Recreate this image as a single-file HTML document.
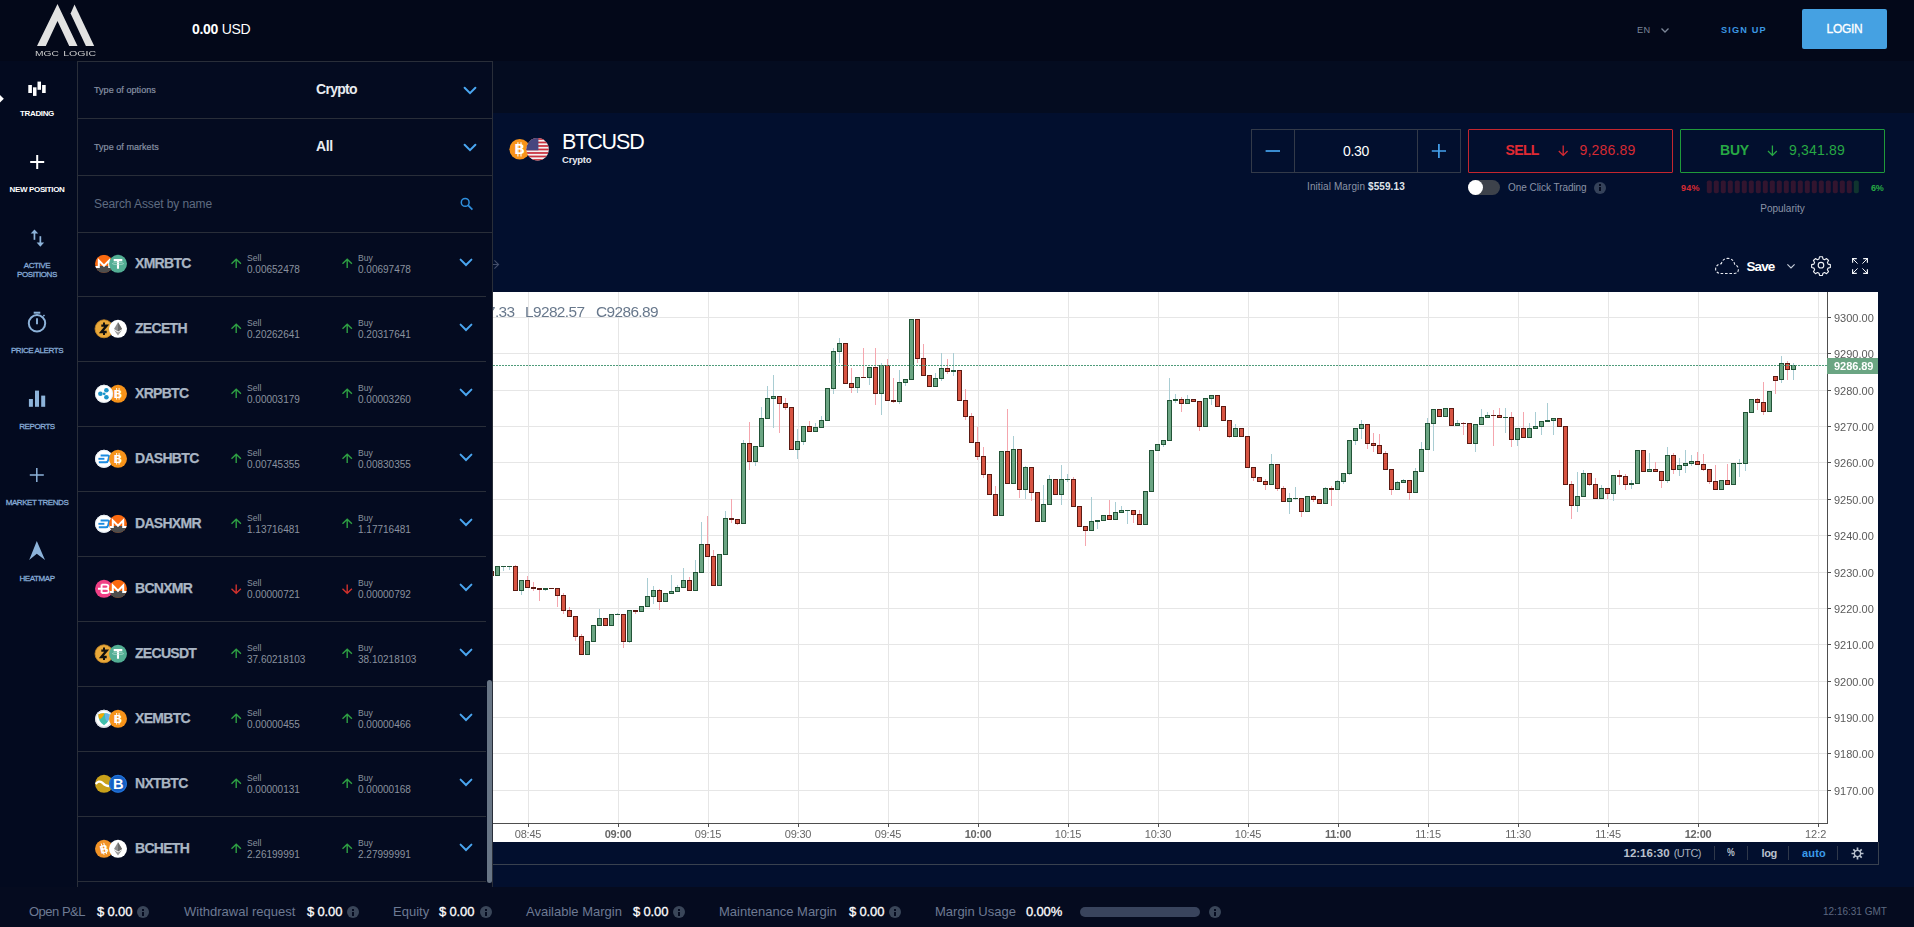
<!DOCTYPE html>
<html><head><meta charset="utf-8">
<style>
*{box-sizing:border-box;margin:0;padding:0}
html,body{width:1914px;height:927px;overflow:hidden}
body{background:#020f2e;font-family:"Liberation Sans",sans-serif;color:#fff;position:relative}
.abs{position:absolute}
.t{position:absolute;white-space:nowrap;line-height:1}
#hdr{left:0;top:0;width:1914px;height:61px;background:#030819}
#strip{left:492px;top:61px;width:1422px;height:52px;background:#040c20}
#nav{left:0;top:61px;width:77px;height:826px;background:#030a1f}
#panel{left:77px;top:61px;width:416px;height:826px;background:#040b20;border:1px solid #292e39;border-bottom:none}
#foot{left:0;top:887px;width:1914px;height:40px;background:#050b1f}
.sep{position:absolute;left:78px;height:1px;background:#292e39}
.navl{position:absolute;left:0;width:74px;text-align:center;font-size:8px;line-height:9px;color:#86aad6;letter-spacing:-0.42px;-webkit-text-stroke:0.3px #86aad6}
.nm{position:absolute;left:135px;font-size:14px;font-weight:bold;color:#a9b5c3;-webkit-text-stroke:0.25px #a9b5c3;line-height:1;letter-spacing:-0.7px;white-space:nowrap}
.sl{position:absolute;font-size:8.6px;line-height:1;color:#8a929f;white-space:nowrap}
.sv{position:absolute;font-size:10px;line-height:1;color:#8a929f;white-space:nowrap}
.ic{position:absolute;width:17px;height:17px;border-radius:50%}
.fl{position:absolute;font-size:13px;line-height:1;color:#6d7a93;white-space:nowrap;top:905.3px}
.fv{position:absolute;font-size:13px;line-height:1;color:#fff;white-space:nowrap;top:905.3px;-webkit-text-stroke:0.3px #fff}
.inf{position:absolute;width:12px;height:12px;border-radius:50%;background:#3a4659;top:906px}
.inf:before{content:"";position:absolute;left:5px;top:2.5px;width:2px;height:2px;background:#050b1f}
.inf:after{content:"";position:absolute;left:5px;top:5.5px;width:2px;height:4px;background:#050b1f}
.pl{font-size:11px;color:#5a5a5a;letter-spacing:0;will-change:transform}
.tl{font-size:11px;color:#666;will-change:transform}
.tb{font-size:12px;color:#b9c1cd;letter-spacing:-0.3px}
.leg{font-size:15.4px;color:#68788c;letter-spacing:-0.6px;will-change:transform}
</style></head><body>
<!-- backgrounds -->
<div id="hdr" class="abs"></div>
<div id="strip" class="abs"></div>
<div id="nav" class="abs"></div>
<div id="panel" class="abs"></div>
<div id="foot" class="abs"></div>

<!-- HEADER -->
<svg class="abs" style="left:0;top:0;will-change:transform" width="140" height="61" viewBox="0 0 140 61">
<polygon points="57.5,4 77.5,46 69.2,46 57.5,21 45.8,46 37,46" fill="#e2e2e2"/>
<polygon points="74.5,4.5 94.2,46 85.9,46 70.6,13.4" fill="#e2e2e2"/>
<text x="34.9" y="56" font-family="Liberation Sans" font-size="6.8" fill="#cfcfcf" textLength="23.9" lengthAdjust="spacingAndGlyphs">MGC</text><text x="63.2" y="56" font-family="Liberation Sans" font-size="6.8" fill="#cfcfcf" textLength="32.9" lengthAdjust="spacingAndGlyphs">LOGIC</text>
</svg>
<div class="t" id="bal" style="left:192px;top:22px;font-size:14px;letter-spacing:-0.3px"><b>0.00</b> USD</div>
<div class="t" style="left:1637px;top:25.5px;font-size:9.2px;color:#7c8698;letter-spacing:0.3px">EN</div>
<svg class="abs" style="left:1660px;top:26.5px" width="10" height="7" viewBox="0 0 10 7"><path d="M1.5 1.5 L5 5 L8.5 1.5" fill="none" stroke="#7c8698" stroke-width="1.3"/></svg>
<div class="t" id="signup" style="left:1721px;top:25.6px;font-size:9.2px;font-weight:bold;color:#3b97e3;letter-spacing:1.15px">SIGN UP</div>
<div class="abs" style="left:1802px;top:9px;width:85px;height:40px;background:#45a1e2;border-radius:2px"></div>
<div class="t" id="login" style="left:1802px;top:22.5px;width:85px;text-align:center;font-size:12px;color:#fff;letter-spacing:-0.3px;-webkit-text-stroke:0.3px #fff">LOGIN</div>

<!-- NAV -->

<svg class="abs" style="left:0;top:61px" width="77" height="824" viewBox="0 61 77 824">
<polygon points="0,95 3.8,98.7 0,102.4" fill="#fff"/>
<g fill="#fff"><rect x="28.3" y="85" width="3.6" height="8"/><rect x="33" y="87.3" width="3.5" height="8.6"/><rect x="37.5" y="81.6" width="3.5" height="8.2"/><rect x="42.1" y="85" width="3.6" height="8"/></g>
<path d="M37.2 155v14M30.2 162h14" stroke="#fff" stroke-width="2" fill="none"/>
<g fill="#8db3da"><rect x="33.6" y="232" width="1.7" height="7.8"/><polygon points="34.45,229.4 38.2,233.6 30.7,233.6"/><rect x="39.5" y="236.2" width="1.7" height="7.4"/><polygon points="40.35,246.8 44.1,242.6 36.6,242.6"/></g>
<g stroke="#8db3da" fill="none"><circle cx="37" cy="323.3" r="8.2" stroke-width="2"/><path d="M33.7 312.7h6.6" stroke-width="2"/><path d="M37 318.2v6" stroke-width="1.9"/><path d="M43.3 316.2l1.2-1.2" stroke-width="1.4"/></g>
<g fill="#8db3da"><rect x="28.9" y="399" width="4" height="7.8"/><rect x="35" y="390.6" width="4" height="16.2"/><rect x="41.2" y="395.6" width="4" height="11.2"/></g>
<path d="M36.8 468v14M29.8 475h14" stroke="#8db3da" stroke-width="1.5" fill="none"/>
<polygon points="36.8,541 45,560 36.8,553.8 29.2,560" fill="#8db3da"/>
</svg>
<div class="navl" style="top:109px;color:#fff;font-weight:bold;letter-spacing:-0.35px;-webkit-text-stroke:0" id="n1">TRADING</div>
<div class="navl" style="top:185px;color:#fff;font-weight:bold;letter-spacing:-0.35px;-webkit-text-stroke:0" id="n2">NEW POSITION</div>
<div class="navl" style="top:261px" id="n3">ACTIVE<br>POSITIONS</div>
<div class="navl" style="top:346px" id="n4">PRICE ALERTS</div>
<div class="navl" style="top:422px" id="n5">REPORTS</div>
<div class="navl" style="top:498px" id="n6">MARKET TRENDS</div>
<div class="navl" style="top:574px" id="n7">HEATMAP</div>


<!-- PANEL -->
<svg class="abs" style="left:77px;top:232px" width="416" height="654" viewBox="77 232 416 654">
<g transform="translate(104,263.8)"><clipPath id="c104_263_8"><circle r="9"/></clipPath><g clip-path="url(#c104_263_8)"><rect x="-9" y="-9" width="18" height="18" fill="#fb6a10"/><rect x="-9" y="2.2" width="18" height="7" fill="#4d4d4d"/><path d="M-5.2 4.2V-3.4L0 2L5.2 -3.4V4.2" fill="none" stroke="#fff" stroke-width="2"/><rect x="-9" y="2.2" width="3.8" height="2" fill="#fff"/><rect x="5.2" y="2.2" width="3.8" height="2" fill="#fff"/></g></g>
<g transform="translate(118,263.8)"><circle r="9" fill="#53ae94"/><path d="M-4.3 -3.7H4.3M0 -3.7V5" stroke="#fff" stroke-width="2.1" fill="none"/><ellipse cx="0" cy="-0.2" rx="5.6" ry="1.1" fill="none" stroke="#bfe3d8" stroke-width="0.6"/></g>
<path d="M236.2 267.9V259.7M231.5 263.7L236.2 259.2L240.9 263.7" fill="none" stroke="#2ea043" stroke-width="1.4"/>
<path d="M347.2 267.9V259.7M342.5 263.7L347.2 259.2L351.9 263.7" fill="none" stroke="#2ea043" stroke-width="1.4"/>
<path d="M460.6 259.6L466 265.0L471.4 259.6" fill="none" stroke="#4aa6f0" stroke-width="2" stroke-linecap="round"/>
<g transform="translate(104,328.8)"><circle r="9" fill="#e9a83a"/><circle r="9" fill="none" stroke="#c98a26" stroke-width="0.8"/><path d="M-2.7 -3.2H2.7L-2.7 3.2H2.7" stroke="#111" stroke-width="2.3" fill="none" stroke-linejoin="miter"/><path d="M0 -6.2V-3M0 3V6.2" stroke="#111" stroke-width="2" fill="none"/></g>
<g transform="translate(118,328.8)"><circle r="9" fill="#fff"/><polygon points="0,-6.6 4,0.2 0,2.6 -4,0.2" fill="#8c8c8c"/><polygon points="0,-6.6 4,0.2 0,2.6" fill="#6a6a6a"/><polygon points="0,3.6 4,1.2 0,6.8 -4,1.2" fill="#9a9a9a"/></g>
<path d="M236.2 332.9V324.7M231.5 328.7L236.2 324.2L240.9 328.7" fill="none" stroke="#2ea043" stroke-width="1.4"/>
<path d="M347.2 332.9V324.7M342.5 328.7L347.2 324.2L351.9 328.7" fill="none" stroke="#2ea043" stroke-width="1.4"/>
<path d="M460.6 324.6L466 330.0L471.4 324.6" fill="none" stroke="#4aa6f0" stroke-width="2" stroke-linecap="round"/>
<g transform="translate(118,393.8)"><circle r="9" fill="#f7931a"/><text x="0" y="4.2" text-anchor="middle" font-family="Liberation Sans" font-weight="bold" font-size="11.5" fill="#fff">B</text><path d="M-1.4 -5.8V5.8M1.1 -5.8V5.8" stroke="#fff" stroke-width="0.9" /></g>
<g transform="translate(104,393.8)"><circle r="9" fill="#fff"/><circle r="8.6" fill="none" stroke="#dfe8ee" stroke-width="0.8"/><g fill="#1b95ca"><circle cx="-3.6" cy="0" r="2.3"/><circle cx="2.4" cy="-3.5" r="2.3"/><circle cx="2.4" cy="3.5" r="2.3"/><circle cx="0.2" cy="0" r="1.4"/></g></g>
<path d="M236.2 397.9V389.7M231.5 393.7L236.2 389.2L240.9 393.7" fill="none" stroke="#2ea043" stroke-width="1.4"/>
<path d="M347.2 397.9V389.7M342.5 393.7L347.2 389.2L351.9 393.7" fill="none" stroke="#2ea043" stroke-width="1.4"/>
<path d="M460.6 389.6L466 395.0L471.4 389.6" fill="none" stroke="#4aa6f0" stroke-width="2" stroke-linecap="round"/>
<g transform="translate(104,458.8)"><circle r="9" fill="#fff"/><circle r="8.5" fill="none" stroke="#e4ecf4" stroke-width="1"/><path d="M-3.4 -3.4H3.6Q5.4 -3.4 4.9 -1.4L4.2 1.4Q3.7 3.4 1.8 3.4H-5.2" fill="none" stroke="#1c8be0" stroke-width="2"/><path d="M-5.6 0H0.4" stroke="#1c8be0" stroke-width="1.9"/></g>
<g transform="translate(118,458.8)"><circle r="9" fill="#f7931a"/><text x="0" y="4.2" text-anchor="middle" font-family="Liberation Sans" font-weight="bold" font-size="11.5" fill="#fff">B</text><path d="M-1.4 -5.8V5.8M1.1 -5.8V5.8" stroke="#fff" stroke-width="0.9" /></g>
<path d="M236.2 462.9V454.7M231.5 458.7L236.2 454.2L240.9 458.7" fill="none" stroke="#2ea043" stroke-width="1.4"/>
<path d="M347.2 462.9V454.7M342.5 458.7L347.2 454.2L351.9 458.7" fill="none" stroke="#2ea043" stroke-width="1.4"/>
<path d="M460.6 454.6L466 460.0L471.4 454.6" fill="none" stroke="#4aa6f0" stroke-width="2" stroke-linecap="round"/>
<g transform="translate(104,523.8)"><circle r="9" fill="#fff"/><circle r="8.5" fill="none" stroke="#e4ecf4" stroke-width="1"/><path d="M-3.4 -3.4H3.6Q5.4 -3.4 4.9 -1.4L4.2 1.4Q3.7 3.4 1.8 3.4H-5.2" fill="none" stroke="#1c8be0" stroke-width="2"/><path d="M-5.6 0H0.4" stroke="#1c8be0" stroke-width="1.9"/></g>
<g transform="translate(118,523.8)"><clipPath id="c118_523_8"><circle r="9"/></clipPath><g clip-path="url(#c118_523_8)"><rect x="-9" y="-9" width="18" height="18" fill="#fb6a10"/><rect x="-9" y="2.2" width="18" height="7" fill="#4d4d4d"/><path d="M-5.2 4.2V-3.4L0 2L5.2 -3.4V4.2" fill="none" stroke="#fff" stroke-width="2"/><rect x="-9" y="2.2" width="3.8" height="2" fill="#fff"/><rect x="5.2" y="2.2" width="3.8" height="2" fill="#fff"/></g></g>
<path d="M236.2 527.9V519.7M231.5 523.7L236.2 519.2L240.9 523.7" fill="none" stroke="#2ea043" stroke-width="1.4"/>
<path d="M347.2 527.9V519.7M342.5 523.7L347.2 519.2L351.9 523.7" fill="none" stroke="#2ea043" stroke-width="1.4"/>
<path d="M460.6 519.6L466 525.0L471.4 519.6" fill="none" stroke="#4aa6f0" stroke-width="2" stroke-linecap="round"/>
<g transform="translate(104,588.8)"><circle r="9" fill="#f04086"/><path d="M-2.4 -4.2H1.8Q4.4 -4.2 4.4 -2.1Q4.4 0 1.8 0H-2.4M1.8 0Q4.9 0 4.9 2.1Q4.9 4.2 1.8 4.2H-2.4M-2.4 -4.2V4.2M-6 0H-2" fill="none" stroke="#fff" stroke-width="1.9"/></g>
<g transform="translate(118,588.8)"><clipPath id="c118_588_8"><circle r="9"/></clipPath><g clip-path="url(#c118_588_8)"><rect x="-9" y="-9" width="18" height="18" fill="#fb6a10"/><rect x="-9" y="2.2" width="18" height="7" fill="#4d4d4d"/><path d="M-5.2 4.2V-3.4L0 2L5.2 -3.4V4.2" fill="none" stroke="#fff" stroke-width="2"/><rect x="-9" y="2.2" width="3.8" height="2" fill="#fff"/><rect x="5.2" y="2.2" width="3.8" height="2" fill="#fff"/></g></g>
<path d="M236.2 584.5V592.7M231.5 588.7L236.2 593.2L240.9 588.7" fill="none" stroke="#d0312d" stroke-width="1.4"/>
<path d="M347.2 584.5V592.7M342.5 588.7L347.2 593.2L351.9 588.7" fill="none" stroke="#d0312d" stroke-width="1.4"/>
<path d="M460.6 584.6L466 590.0L471.4 584.6" fill="none" stroke="#4aa6f0" stroke-width="2" stroke-linecap="round"/>
<g transform="translate(104,653.8)"><circle r="9" fill="#e9a83a"/><circle r="9" fill="none" stroke="#c98a26" stroke-width="0.8"/><path d="M-2.7 -3.2H2.7L-2.7 3.2H2.7" stroke="#111" stroke-width="2.3" fill="none" stroke-linejoin="miter"/><path d="M0 -6.2V-3M0 3V6.2" stroke="#111" stroke-width="2" fill="none"/></g>
<g transform="translate(118,653.8)"><circle r="9" fill="#53ae94"/><path d="M-4.3 -3.7H4.3M0 -3.7V5" stroke="#fff" stroke-width="2.1" fill="none"/><ellipse cx="0" cy="-0.2" rx="5.6" ry="1.1" fill="none" stroke="#bfe3d8" stroke-width="0.6"/></g>
<path d="M236.2 657.9V649.7M231.5 653.7L236.2 649.2L240.9 653.7" fill="none" stroke="#2ea043" stroke-width="1.4"/>
<path d="M347.2 657.9V649.7M342.5 653.7L347.2 649.2L351.9 653.7" fill="none" stroke="#2ea043" stroke-width="1.4"/>
<path d="M460.6 649.6L466 655.0L471.4 649.6" fill="none" stroke="#4aa6f0" stroke-width="2" stroke-linecap="round"/>
<g transform="translate(104,718.8)"><circle r="9" fill="#fff"/><circle r="8.4" fill="none" stroke="#d8dde3" stroke-width="1.2"/><path d="M-5.6 -4.6Q0 -6.6 5.6 -4.6Q5.8 3 0 6.4Q-5.8 3 -5.6 -4.6Z" fill="#41bfaa"/><path d="M-5.6 -4.6Q-2.4 -5.8 0.4 -5.6Q-0.6 -1.4 -4.4 0.4Q-5.8 -1.8 -5.6 -4.6Z" fill="#f7a800"/><path d="M1 -5.6Q3.6 -5.4 5.6 -4.6Q5.8 0 3.6 3Q0.4 1 1 -5.6Z" fill="#67b2e8"/></g>
<g transform="translate(118,718.8)"><circle r="9" fill="#f7931a"/><text x="0" y="4.2" text-anchor="middle" font-family="Liberation Sans" font-weight="bold" font-size="11.5" fill="#fff">B</text><path d="M-1.4 -5.8V5.8M1.1 -5.8V5.8" stroke="#fff" stroke-width="0.9" /></g>
<path d="M236.2 722.9V714.7M231.5 718.7L236.2 714.2L240.9 718.7" fill="none" stroke="#2ea043" stroke-width="1.4"/>
<path d="M347.2 722.9V714.7M342.5 718.7L347.2 714.2L351.9 718.7" fill="none" stroke="#2ea043" stroke-width="1.4"/>
<path d="M460.6 714.6L466 720.0L471.4 714.6" fill="none" stroke="#4aa6f0" stroke-width="2" stroke-linecap="round"/>
<g transform="translate(104,783.8)"><circle r="9" fill="#c9a11a"/><path d="M-8.2 0.2Q-5.4 -3.8 -1.6 -1Q1.6 2.6 5.4 2.4" fill="none" stroke="#fff" stroke-width="2.3"/></g>
<g transform="translate(118,783.8)"><circle r="9" fill="#1560c4"/><circle r="8.4" fill="none" stroke="#2a7be0" stroke-width="0.8"/><text x="0.2" y="5.3" text-anchor="middle" font-family="Liberation Sans" font-weight="bold" font-size="14.6" fill="#fff">B</text></g>
<path d="M236.2 787.9V779.7M231.5 783.7L236.2 779.2L240.9 783.7" fill="none" stroke="#2ea043" stroke-width="1.4"/>
<path d="M347.2 787.9V779.7M342.5 783.7L347.2 779.2L351.9 783.7" fill="none" stroke="#2ea043" stroke-width="1.4"/>
<path d="M460.6 779.6L466 785.0L471.4 779.6" fill="none" stroke="#4aa6f0" stroke-width="2" stroke-linecap="round"/>
<g transform="translate(104,848.8)"><circle r="9" fill="#f19326"/><g transform="rotate(-14)"><text x="0" y="4.2" text-anchor="middle" font-family="Liberation Sans" font-weight="bold" font-size="11.5" fill="#fff">B</text><path d="M-1.4 -5.8V5.8M1.2 -5.8V5.8" stroke="#fff" stroke-width="0.9" /></g></g>
<g transform="translate(118,848.8)"><circle r="9" fill="#fff"/><polygon points="0,-6.6 4,0.2 0,2.6 -4,0.2" fill="#8c8c8c"/><polygon points="0,-6.6 4,0.2 0,2.6" fill="#6a6a6a"/><polygon points="0,3.6 4,1.2 0,6.8 -4,1.2" fill="#9a9a9a"/></g>
<path d="M236.2 852.9V844.7M231.5 848.7L236.2 844.2L240.9 848.7" fill="none" stroke="#2ea043" stroke-width="1.4"/>
<path d="M347.2 852.9V844.7M342.5 848.7L347.2 844.2L351.9 848.7" fill="none" stroke="#2ea043" stroke-width="1.4"/>
<path d="M460.6 844.6L466 850.0L471.4 844.6" fill="none" stroke="#4aa6f0" stroke-width="2" stroke-linecap="round"/>
</svg>
<div class="sep" style="top:118px;width:414px"></div>
<div class="sep" style="top:175px;width:414px"></div>
<div class="sep" style="top:232px;width:414px"></div>
<div class="t" style="left:94px;top:86px;font-size:9px;color:#8791a3;letter-spacing:0.05px;-webkit-text-stroke:0.2px #8791a3" id="too">Type of options</div>
<div class="t" style="left:316px;top:82px;font-size:14px;font-weight:bold;color:#e8ebf0;letter-spacing:-0.7px" id="cry">Crypto</div>
<div class="t" style="left:94px;top:143px;font-size:9px;color:#8791a3;letter-spacing:0.05px;-webkit-text-stroke:0.2px #8791a3" id="tom">Type of markets</div>
<div class="t" style="left:316px;top:139px;font-size:14px;font-weight:bold;color:#e8ebf0;letter-spacing:-0.4px" id="all">All</div>
<div class="t" style="left:94px;top:198px;font-size:12px;color:#5f6b80;letter-spacing:-0.1px" id="srch">Search Asset by name</div>
<svg class="abs" style="left:463px;top:86px" width="14" height="10" viewBox="0 0 14 10"><path d="M1.6 1.8L7 7.2L12.4 1.8" fill="none" stroke="#4aa6f0" stroke-width="2" stroke-linecap="round"/></svg>
<svg class="abs" style="left:463px;top:143px" width="14" height="10" viewBox="0 0 14 10"><path d="M1.6 1.8L7 7.2L12.4 1.8" fill="none" stroke="#4aa6f0" stroke-width="2" stroke-linecap="round"/></svg>
<svg class="abs" style="left:459px;top:196px" width="16" height="16" viewBox="0 0 16 16"><circle cx="6.2" cy="6.4" r="3.9" fill="none" stroke="#2f8fdd" stroke-width="1.5"/><path d="M9.2 9.4L13.4 13.6" stroke="#2f8fdd" stroke-width="1.7"/></svg>
<div class="sep" style="top:296px;width:408px"></div>
<div class="nm" style="top:255.8px">XMRBTC</div>
<div class="sl" style="left:247px;top:253.9px">Sell</div>
<div class="sv" style="left:247px;top:264.8px">0.00652478</div>
<div class="sl" style="left:358px;top:253.9px">Buy</div>
<div class="sv" style="left:358px;top:264.8px">0.00697478</div>
<div class="sep" style="top:361px;width:408px"></div>
<div class="nm" style="top:320.8px">ZECETH</div>
<div class="sl" style="left:247px;top:318.9px">Sell</div>
<div class="sv" style="left:247px;top:329.8px">0.20262641</div>
<div class="sl" style="left:358px;top:318.9px">Buy</div>
<div class="sv" style="left:358px;top:329.8px">0.20317641</div>
<div class="sep" style="top:426px;width:408px"></div>
<div class="nm" style="top:385.8px">XRPBTC</div>
<div class="sl" style="left:247px;top:383.9px">Sell</div>
<div class="sv" style="left:247px;top:394.8px">0.00003179</div>
<div class="sl" style="left:358px;top:383.9px">Buy</div>
<div class="sv" style="left:358px;top:394.8px">0.00003260</div>
<div class="sep" style="top:491px;width:408px"></div>
<div class="nm" style="top:450.8px">DASHBTC</div>
<div class="sl" style="left:247px;top:448.9px">Sell</div>
<div class="sv" style="left:247px;top:459.8px">0.00745355</div>
<div class="sl" style="left:358px;top:448.9px">Buy</div>
<div class="sv" style="left:358px;top:459.8px">0.00830355</div>
<div class="sep" style="top:556px;width:408px"></div>
<div class="nm" style="top:515.8px">DASHXMR</div>
<div class="sl" style="left:247px;top:513.9px">Sell</div>
<div class="sv" style="left:247px;top:524.8px">1.13716481</div>
<div class="sl" style="left:358px;top:513.9px">Buy</div>
<div class="sv" style="left:358px;top:524.8px">1.17716481</div>
<div class="sep" style="top:621px;width:408px"></div>
<div class="nm" style="top:580.8px">BCNXMR</div>
<div class="sl" style="left:247px;top:578.9px">Sell</div>
<div class="sv" style="left:247px;top:589.8px">0.00000721</div>
<div class="sl" style="left:358px;top:578.9px">Buy</div>
<div class="sv" style="left:358px;top:589.8px">0.00000792</div>
<div class="sep" style="top:686px;width:408px"></div>
<div class="nm" style="top:645.8px">ZECUSDT</div>
<div class="sl" style="left:247px;top:643.9px">Sell</div>
<div class="sv" style="left:247px;top:654.8px">37.60218103</div>
<div class="sl" style="left:358px;top:643.9px">Buy</div>
<div class="sv" style="left:358px;top:654.8px">38.10218103</div>
<div class="sep" style="top:751px;width:408px"></div>
<div class="nm" style="top:710.8px">XEMBTC</div>
<div class="sl" style="left:247px;top:708.9px">Sell</div>
<div class="sv" style="left:247px;top:719.8px">0.00000455</div>
<div class="sl" style="left:358px;top:708.9px">Buy</div>
<div class="sv" style="left:358px;top:719.8px">0.00000466</div>
<div class="sep" style="top:816px;width:408px"></div>
<div class="nm" style="top:775.8px">NXTBTC</div>
<div class="sl" style="left:247px;top:773.9px">Sell</div>
<div class="sv" style="left:247px;top:784.8px">0.00000131</div>
<div class="sl" style="left:358px;top:773.9px">Buy</div>
<div class="sv" style="left:358px;top:784.8px">0.00000168</div>
<div class="sep" style="top:881px;width:408px"></div>
<div class="nm" style="top:840.8px">BCHETH</div>
<div class="sl" style="left:247px;top:838.9px">Sell</div>
<div class="sv" style="left:247px;top:849.8px">2.26199991</div>
<div class="sl" style="left:358px;top:838.9px">Buy</div>
<div class="sv" style="left:358px;top:849.8px">2.27999991</div>
<div class="abs" style="left:487px;top:680px;width:5px;height:203px;background:#687585;border-radius:2.5px"></div>

<!-- MAIN TOP -->
<svg class="abs" style="left:505px;top:135px" width="50" height="30" viewBox="505 135 50 30">
<circle cx="519.7" cy="149.3" r="10.3" fill="#f7931a"/>
<text x="519.5" y="154.4" text-anchor="middle" font-family="Liberation Sans" font-weight="bold" font-size="14" fill="#fff">B</text><path d="M517.9 142.2V156.4M521 142.2V156.4" stroke="#fff" stroke-width="1.1"/>
<clipPath id="fl"><circle cx="537.6" cy="149.3" r="11.2"/></clipPath>
<g clip-path="url(#fl)"><rect x="526" y="138" width="24" height="23" fill="#f4f0f0"/>
<g fill="#c8313e"><rect x="526" y="138.1" width="24" height="1.75"/><rect x="526" y="141.6" width="24" height="1.75"/><rect x="526" y="145.1" width="24" height="1.75"/><rect x="526" y="148.6" width="24" height="1.75"/><rect x="526" y="152.1" width="24" height="1.75"/><rect x="526" y="155.6" width="24" height="1.75"/><rect x="526" y="159.1" width="24" height="1.75"/></g>
<rect x="526" y="138" width="12.4" height="12.3" fill="#46467f"/></g>
</svg>
<div class="t" id="btc" style="left:562px;top:132px;font-size:21.5px;color:#fff;letter-spacing:-1.13px">BTCUSD</div>
<div class="t" id="btcs" style="left:562px;top:155.4px;font-size:9.5px;font-weight:bold;color:#e6e8ee;letter-spacing:-0.2px">Crypto</div>
<div class="abs" style="left:1251px;top:129px;width:210px;height:44px;border:1px solid #333a49"></div>
<div class="abs" style="left:1294px;top:129px;width:1px;height:44px;background:#333a49"></div>
<div class="abs" style="left:1417px;top:129px;width:1px;height:44px;background:#333a49"></div>
<svg class="abs" style="left:1251px;top:129px" width="210" height="44" viewBox="1251 129 210 44"><path d="M1265.6 151H1280" stroke="#45a3ee" stroke-width="1.7"/><path d="M1431.8 151H1446M1438.9 143.9V158.1" stroke="#45a3ee" stroke-width="1.7"/></svg>
<div class="t" id="qty" style="left:1295px;top:144px;width:122px;text-align:center;font-size:14px;color:#fff;letter-spacing:-0.3px">0.30</div>
<div class="t" id="im" style="left:1307px;top:182px;font-size:10px;color:#8a93a6;letter-spacing:0.1px">Initial Margin <b style="color:#dfe3ea">$559.13</b></div>
<div class="abs" style="left:1468px;top:129px;width:205px;height:44px;border:1px solid #c4262e;border-radius:1px"></div>
<div class="t" id="sell" style="left:1505.5px;top:143px;font-size:14px;font-weight:bold;color:#e02a33;letter-spacing:-0.65px">SELL</div>
<div class="t" id="sellp" style="left:1579.5px;top:143px;font-size:14px;color:#d62a33;letter-spacing:0.18px">9,286.89</div>
<div class="abs" style="left:1680px;top:129px;width:205px;height:44px;border:1px solid #1f9a3a;border-radius:1px"></div>
<div class="t" id="buy" style="left:1720px;top:143px;font-size:14px;font-weight:bold;color:#27a844;letter-spacing:-0.2px">BUY</div>
<div class="t" id="buyp" style="left:1789px;top:143px;font-size:14px;color:#27a844;letter-spacing:0.18px">9,341.89</div>
<svg class="abs" style="left:1550px;top:140px" width="240" height="22" viewBox="1550 140 240 22">
<path d="M1563.2 145.6V155M1558.8 151L1563.2 155.4L1567.6 151" fill="none" stroke="#d62a33" stroke-width="1.3"/>
<path d="M1772.4 145.6V155M1768 151L1772.4 155.4L1776.8 151" fill="none" stroke="#27a844" stroke-width="1.3"/></svg>
<div class="abs" style="left:1468.3px;top:180.1px;width:32px;height:15px;border-radius:8px;background:#3d424b"></div>
<div class="abs" style="left:1468.3px;top:180.1px;width:15px;height:15px;border-radius:50%;background:#fff"></div>
<div class="t" id="oct" style="left:1508px;top:183px;font-size:10px;color:#8a93a6;letter-spacing:-0.05px">One Click Trading</div>
<div class="inf" style="left:1594px;top:181.5px;background:#35425a"></div>
<div class="t" id="p94" style="left:1681px;top:183.5px;font-size:9px;font-weight:bold;color:#d62a33;letter-spacing:0.2px">94%</div>
<div class="t" id="p6" style="left:1871px;top:183.5px;font-size:9px;font-weight:bold;color:#27a844;letter-spacing:-0.2px">6%</div>
<svg class="abs" style="left:1700px;top:178px" width="170" height="18" viewBox="1700 178 170 18"><rect x="1706.80" y="180.4" width="5" height="12.8" rx="1.8" fill="#32152f"/><rect x="1713.80" y="180.4" width="5" height="12.8" rx="1.8" fill="#32152f"/><rect x="1720.80" y="180.4" width="5" height="12.8" rx="1.8" fill="#32152f"/><rect x="1727.80" y="180.4" width="5" height="12.8" rx="1.8" fill="#32152f"/><rect x="1734.80" y="180.4" width="5" height="12.8" rx="1.8" fill="#32152f"/><rect x="1741.80" y="180.4" width="5" height="12.8" rx="1.8" fill="#32152f"/><rect x="1748.80" y="180.4" width="5" height="12.8" rx="1.8" fill="#32152f"/><rect x="1755.80" y="180.4" width="5" height="12.8" rx="1.8" fill="#32152f"/><rect x="1762.80" y="180.4" width="5" height="12.8" rx="1.8" fill="#32152f"/><rect x="1769.80" y="180.4" width="5" height="12.8" rx="1.8" fill="#32152f"/><rect x="1776.80" y="180.4" width="5" height="12.8" rx="1.8" fill="#32152f"/><rect x="1783.80" y="180.4" width="5" height="12.8" rx="1.8" fill="#32152f"/><rect x="1790.80" y="180.4" width="5" height="12.8" rx="1.8" fill="#32152f"/><rect x="1797.80" y="180.4" width="5" height="12.8" rx="1.8" fill="#32152f"/><rect x="1804.80" y="180.4" width="5" height="12.8" rx="1.8" fill="#32152f"/><rect x="1811.80" y="180.4" width="5" height="12.8" rx="1.8" fill="#32152f"/><rect x="1818.80" y="180.4" width="5" height="12.8" rx="1.8" fill="#32152f"/><rect x="1825.80" y="180.4" width="5" height="12.8" rx="1.8" fill="#32152f"/><rect x="1832.80" y="180.4" width="5" height="12.8" rx="1.8" fill="#32152f"/><rect x="1839.80" y="180.4" width="5" height="12.8" rx="1.8" fill="#32152f"/><rect x="1846.80" y="180.4" width="5" height="12.8" rx="1.8" fill="#32152f"/><rect x="1853.80" y="180.4" width="5" height="12.8" rx="1.8" fill="#10352f"/></svg>
<div class="t" id="pop" style="left:1732px;top:203.5px;width:101px;text-align:center;font-size:10px;color:#8a93a6">Popularity</div>
<svg class="abs" style="left:1710px;top:250px" width="170" height="34" viewBox="1710 250 170 34">
<path d="M1720.6 273.5H1734.2Q1738.6 273.1 1738.4 269Q1738 265.6 1734.8 265.2Q1734 258.8 1727.8 258.3Q1722.6 258.6 1721.4 263.6Q1715.8 264.6 1715.6 269.2Q1716 273.1 1720.6 273.5Z" fill="none" stroke="#e8ebf2" stroke-width="1.1" stroke-dasharray="2.6 1.8"/>
<path d="M1787.4 264.4L1791 268L1794.6 264.4" fill="none" stroke="#c9d0dc" stroke-width="1.1"/>
<g fill="none" stroke="#f0f2f6" stroke-width="1.25" transform="translate(1821 265.2) scale(0.9) translate(-1821 -266)"><circle cx="1821" cy="266" r="3.1"/>
<path d="M1819.4 256.6h3.2l.6 2.5 1.7.8 2.3-1.3 2.2 2.2-1.3 2.3.8 1.7 2.5.6v3.2l-2.5.6-.8 1.7 1.3 2.3-2.2 2.2-2.3-1.3-1.7.8-.6 2.5h-3.2l-.6-2.5-1.7-.8-2.3 1.3-2.2-2.2 1.3-2.3-.8-1.7-2.5-.6v-3.2l2.5-.6.8-1.7-1.3-2.3 2.2-2.2 2.3 1.3 1.7-.8z" stroke-linejoin="round"/></g>
<g fill="none" stroke="#f0f2f6" stroke-width="1.2"><path d="M1852.6 262.8V258.6H1856.8"/><path d="M1867.4 262.8V258.6H1863.2"/><path d="M1852.6 269.2V273.4H1856.8"/><path d="M1867.4 269.2V273.4H1863.2"/></g>
<g fill="none" stroke="#f0f2f6" stroke-width="1"><path d="M1853 259L1857.6 263.6M1867 259L1862.4 263.6M1853 273L1857.6 268.4M1867 273L1862.4 268.4"/></g>
</svg>
<div class="t" id="save" style="left:1746.5px;top:260px;font-size:13.5px;font-weight:bold;color:#fff;letter-spacing:-0.9px">Save</div>
<svg class="abs" style="left:490px;top:258px" width="12" height="14" viewBox="490 258 12 14"><path d="M493 264.5H498.4M494.4 260.3L498.6 264.5L494.4 268.7" fill="none" stroke="#434e6a" stroke-width="1.1"/></svg>

<!-- CHART -->
<svg class="abs" style="left:493px;top:292px" width="1385" height="550" viewBox="493 292 1385 550" shape-rendering="crispEdges">
<rect x="493" y="292" width="1385" height="550" fill="#fff"/>
<rect x="528" y="292" width="1" height="531" fill="#e6e6e6"/>
<rect x="618" y="292" width="1" height="531" fill="#e6e6e6"/>
<rect x="708" y="292" width="1" height="531" fill="#e6e6e6"/>
<rect x="798" y="292" width="1" height="531" fill="#e6e6e6"/>
<rect x="888" y="292" width="1" height="531" fill="#e6e6e6"/>
<rect x="978" y="292" width="1" height="531" fill="#e6e6e6"/>
<rect x="1068" y="292" width="1" height="531" fill="#e6e6e6"/>
<rect x="1158" y="292" width="1" height="531" fill="#e6e6e6"/>
<rect x="1248" y="292" width="1" height="531" fill="#e6e6e6"/>
<rect x="1338" y="292" width="1" height="531" fill="#e6e6e6"/>
<rect x="1428" y="292" width="1" height="531" fill="#e6e6e6"/>
<rect x="1518" y="292" width="1" height="531" fill="#e6e6e6"/>
<rect x="1608" y="292" width="1" height="531" fill="#e6e6e6"/>
<rect x="1698" y="292" width="1" height="531" fill="#e6e6e6"/>
<rect x="1818" y="292" width="1" height="531" fill="#e6e6e6"/>
<rect x="493" y="317" width="1334" height="1" fill="#e6e6e6"/>
<rect x="493" y="353" width="1334" height="1" fill="#e6e6e6"/>
<rect x="493" y="390" width="1334" height="1" fill="#e6e6e6"/>
<rect x="493" y="426" width="1334" height="1" fill="#e6e6e6"/>
<rect x="493" y="462" width="1334" height="1" fill="#e6e6e6"/>
<rect x="493" y="499" width="1334" height="1" fill="#e6e6e6"/>
<rect x="493" y="535" width="1334" height="1" fill="#e6e6e6"/>
<rect x="493" y="572" width="1334" height="1" fill="#e6e6e6"/>
<rect x="493" y="608" width="1334" height="1" fill="#e6e6e6"/>
<rect x="493" y="644" width="1334" height="1" fill="#e6e6e6"/>
<rect x="493" y="681" width="1334" height="1" fill="#e6e6e6"/>
<rect x="493" y="717" width="1334" height="1" fill="#e6e6e6"/>
<rect x="493" y="753" width="1334" height="1" fill="#e6e6e6"/>
<rect x="493" y="790" width="1334" height="1" fill="#e6e6e6"/>
<rect x="503" y="567" width="1" height="4" fill="#a9cdd3"/>
<rect x="509" y="567" width="1" height="3" fill="#a9cdd3"/>
<rect x="515" y="565" width="1" height="1" fill="#f5a6ae"/>
<rect x="521" y="591" width="1" height="4" fill="#a9cdd3"/>
<rect x="527" y="576" width="1" height="4" fill="#f5a6ae"/>
<rect x="533" y="582" width="1" height="5" fill="#f5a6ae"/>
<rect x="533" y="589" width="1" height="2" fill="#f5a6ae"/>
<rect x="539" y="590" width="1" height="11" fill="#f5a6ae"/>
<rect x="545" y="590" width="1" height="1" fill="#a9cdd3"/>
<rect x="557" y="596" width="1" height="11" fill="#f5a6ae"/>
<rect x="563" y="593" width="1" height="2" fill="#f5a6ae"/>
<rect x="563" y="611" width="1" height="3" fill="#f5a6ae"/>
<rect x="569" y="607" width="1" height="3" fill="#f5a6ae"/>
<rect x="575" y="637" width="1" height="4" fill="#f5a6ae"/>
<rect x="581" y="634" width="1" height="2" fill="#f5a6ae"/>
<rect x="599" y="609" width="1" height="9" fill="#a9cdd3"/>
<rect x="617" y="613" width="1" height="1" fill="#a9cdd3"/>
<rect x="623" y="642" width="1" height="6" fill="#f5a6ae"/>
<rect x="629" y="642" width="1" height="1" fill="#a9cdd3"/>
<rect x="635" y="612" width="1" height="2" fill="#f5a6ae"/>
<rect x="647" y="578" width="1" height="18" fill="#a9cdd3"/>
<rect x="653" y="586" width="1" height="4" fill="#a9cdd3"/>
<rect x="653" y="597" width="1" height="7" fill="#a9cdd3"/>
<rect x="659" y="589" width="1" height="1" fill="#f5a6ae"/>
<rect x="659" y="602" width="1" height="8" fill="#f5a6ae"/>
<rect x="671" y="575" width="1" height="16" fill="#a9cdd3"/>
<rect x="677" y="585" width="1" height="2" fill="#a9cdd3"/>
<rect x="683" y="568" width="1" height="12" fill="#a9cdd3"/>
<rect x="689" y="577" width="1" height="3" fill="#f5a6ae"/>
<rect x="695" y="560" width="1" height="12" fill="#a9cdd3"/>
<rect x="701" y="522" width="1" height="22" fill="#a9cdd3"/>
<rect x="707" y="516" width="1" height="28" fill="#f5a6ae"/>
<rect x="713" y="550" width="1" height="6" fill="#f5a6ae"/>
<rect x="725" y="511" width="1" height="7" fill="#a9cdd3"/>
<rect x="731" y="499" width="1" height="19" fill="#f5a6ae"/>
<rect x="731" y="520" width="1" height="3" fill="#f5a6ae"/>
<rect x="737" y="524" width="1" height="1" fill="#f5a6ae"/>
<rect x="743" y="440" width="1" height="3" fill="#a9cdd3"/>
<rect x="749" y="422" width="1" height="21" fill="#f5a6ae"/>
<rect x="749" y="462" width="1" height="8" fill="#f5a6ae"/>
<rect x="755" y="462" width="1" height="4" fill="#a9cdd3"/>
<rect x="761" y="407" width="1" height="11" fill="#a9cdd3"/>
<rect x="767" y="386" width="1" height="12" fill="#a9cdd3"/>
<rect x="773" y="375" width="1" height="21" fill="#a9cdd3"/>
<rect x="773" y="399" width="1" height="29" fill="#a9cdd3"/>
<rect x="779" y="404" width="1" height="29" fill="#f5a6ae"/>
<rect x="785" y="398" width="1" height="5" fill="#f5a6ae"/>
<rect x="785" y="408" width="1" height="2" fill="#f5a6ae"/>
<rect x="797" y="429" width="1" height="12" fill="#a9cdd3"/>
<rect x="797" y="450" width="1" height="9" fill="#a9cdd3"/>
<rect x="803" y="442" width="1" height="3" fill="#a9cdd3"/>
<rect x="809" y="421" width="1" height="5" fill="#f5a6ae"/>
<rect x="815" y="423" width="1" height="4" fill="#a9cdd3"/>
<rect x="821" y="416" width="1" height="4" fill="#a9cdd3"/>
<rect x="833" y="348" width="1" height="3" fill="#a9cdd3"/>
<rect x="833" y="389" width="1" height="5" fill="#a9cdd3"/>
<rect x="839" y="338" width="1" height="5" fill="#a9cdd3"/>
<rect x="839" y="352" width="1" height="11" fill="#a9cdd3"/>
<rect x="851" y="368" width="1" height="15" fill="#f5a6ae"/>
<rect x="851" y="388" width="1" height="5" fill="#f5a6ae"/>
<rect x="857" y="388" width="1" height="5" fill="#a9cdd3"/>
<rect x="863" y="348" width="1" height="29" fill="#f5a6ae"/>
<rect x="869" y="378" width="1" height="7" fill="#a9cdd3"/>
<rect x="875" y="348" width="1" height="19" fill="#f5a6ae"/>
<rect x="875" y="394" width="1" height="11" fill="#f5a6ae"/>
<rect x="881" y="363" width="1" height="2" fill="#a9cdd3"/>
<rect x="881" y="394" width="1" height="21" fill="#a9cdd3"/>
<rect x="887" y="359" width="1" height="6" fill="#f5a6ae"/>
<rect x="893" y="378" width="1" height="22" fill="#f5a6ae"/>
<rect x="893" y="402" width="1" height="1" fill="#f5a6ae"/>
<rect x="899" y="370" width="1" height="12" fill="#a9cdd3"/>
<rect x="899" y="402" width="1" height="2" fill="#a9cdd3"/>
<rect x="905" y="383" width="1" height="3" fill="#a9cdd3"/>
<rect x="917" y="359" width="1" height="4" fill="#f5a6ae"/>
<rect x="923" y="344" width="1" height="14" fill="#f5a6ae"/>
<rect x="935" y="373" width="1" height="5" fill="#a9cdd3"/>
<rect x="941" y="353" width="1" height="15" fill="#a9cdd3"/>
<rect x="941" y="379" width="1" height="2" fill="#a9cdd3"/>
<rect x="947" y="359" width="1" height="9" fill="#f5a6ae"/>
<rect x="947" y="372" width="1" height="2" fill="#f5a6ae"/>
<rect x="953" y="353" width="1" height="17" fill="#a9cdd3"/>
<rect x="953" y="372" width="1" height="4" fill="#a9cdd3"/>
<rect x="965" y="389" width="1" height="11" fill="#f5a6ae"/>
<rect x="965" y="417" width="1" height="3" fill="#f5a6ae"/>
<rect x="971" y="413" width="1" height="3" fill="#f5a6ae"/>
<rect x="977" y="427" width="1" height="15" fill="#f5a6ae"/>
<rect x="977" y="457" width="1" height="3" fill="#f5a6ae"/>
<rect x="983" y="447" width="1" height="9" fill="#f5a6ae"/>
<rect x="983" y="475" width="1" height="3" fill="#f5a6ae"/>
<rect x="995" y="486" width="1" height="8" fill="#f5a6ae"/>
<rect x="1007" y="409" width="1" height="42" fill="#f5a6ae"/>
<rect x="1013" y="436" width="1" height="13" fill="#a9cdd3"/>
<rect x="1019" y="490" width="1" height="8" fill="#f5a6ae"/>
<rect x="1025" y="466" width="1" height="1" fill="#a9cdd3"/>
<rect x="1025" y="490" width="1" height="9" fill="#a9cdd3"/>
<rect x="1031" y="493" width="1" height="8" fill="#f5a6ae"/>
<rect x="1043" y="485" width="1" height="19" fill="#a9cdd3"/>
<rect x="1049" y="475" width="1" height="4" fill="#a9cdd3"/>
<rect x="1061" y="465" width="1" height="14" fill="#a9cdd3"/>
<rect x="1061" y="495" width="1" height="10" fill="#a9cdd3"/>
<rect x="1067" y="474" width="1" height="5" fill="#a9cdd3"/>
<rect x="1067" y="480" width="1" height="2" fill="#a9cdd3"/>
<rect x="1073" y="477" width="1" height="2" fill="#f5a6ae"/>
<rect x="1085" y="531" width="1" height="15" fill="#f5a6ae"/>
<rect x="1091" y="497" width="1" height="24" fill="#a9cdd3"/>
<rect x="1097" y="522" width="1" height="7" fill="#a9cdd3"/>
<rect x="1109" y="500" width="1" height="15" fill="#f5a6ae"/>
<rect x="1115" y="502" width="1" height="10" fill="#a9cdd3"/>
<rect x="1121" y="506" width="1" height="4" fill="#a9cdd3"/>
<rect x="1127" y="511" width="1" height="13" fill="#a9cdd3"/>
<rect x="1133" y="515" width="1" height="8" fill="#f5a6ae"/>
<rect x="1139" y="510" width="1" height="4" fill="#f5a6ae"/>
<rect x="1163" y="445" width="1" height="2" fill="#a9cdd3"/>
<rect x="1169" y="378" width="1" height="22" fill="#a9cdd3"/>
<rect x="1175" y="394" width="1" height="5" fill="#a9cdd3"/>
<rect x="1175" y="401" width="1" height="2" fill="#a9cdd3"/>
<rect x="1181" y="397" width="1" height="2" fill="#f5a6ae"/>
<rect x="1181" y="404" width="1" height="8" fill="#f5a6ae"/>
<rect x="1187" y="395" width="1" height="4" fill="#a9cdd3"/>
<rect x="1199" y="427" width="1" height="4" fill="#f5a6ae"/>
<rect x="1211" y="399" width="1" height="6" fill="#a9cdd3"/>
<rect x="1229" y="437" width="1" height="1" fill="#f5a6ae"/>
<rect x="1235" y="424" width="1" height="4" fill="#a9cdd3"/>
<rect x="1253" y="478" width="1" height="3" fill="#f5a6ae"/>
<rect x="1265" y="479" width="1" height="2" fill="#f5a6ae"/>
<rect x="1265" y="485" width="1" height="5" fill="#f5a6ae"/>
<rect x="1271" y="454" width="1" height="10" fill="#a9cdd3"/>
<rect x="1277" y="489" width="1" height="2" fill="#f5a6ae"/>
<rect x="1283" y="486" width="1" height="2" fill="#f5a6ae"/>
<rect x="1289" y="493" width="1" height="5" fill="#a9cdd3"/>
<rect x="1289" y="502" width="1" height="12" fill="#a9cdd3"/>
<rect x="1295" y="487" width="1" height="11" fill="#a9cdd3"/>
<rect x="1295" y="499" width="1" height="1" fill="#a9cdd3"/>
<rect x="1301" y="512" width="1" height="5" fill="#f5a6ae"/>
<rect x="1313" y="495" width="1" height="1" fill="#f5a6ae"/>
<rect x="1313" y="500" width="1" height="2" fill="#f5a6ae"/>
<rect x="1325" y="487" width="1" height="1" fill="#a9cdd3"/>
<rect x="1331" y="486" width="1" height="2" fill="#f5a6ae"/>
<rect x="1331" y="490" width="1" height="16" fill="#f5a6ae"/>
<rect x="1337" y="480" width="1" height="1" fill="#a9cdd3"/>
<rect x="1343" y="482" width="1" height="2" fill="#a9cdd3"/>
<rect x="1349" y="474" width="1" height="1" fill="#a9cdd3"/>
<rect x="1355" y="441" width="1" height="4" fill="#a9cdd3"/>
<rect x="1361" y="420" width="1" height="4" fill="#a9cdd3"/>
<rect x="1361" y="429" width="1" height="10" fill="#a9cdd3"/>
<rect x="1367" y="444" width="1" height="5" fill="#f5a6ae"/>
<rect x="1373" y="433" width="1" height="10" fill="#f5a6ae"/>
<rect x="1373" y="446" width="1" height="6" fill="#f5a6ae"/>
<rect x="1379" y="434" width="1" height="11" fill="#f5a6ae"/>
<rect x="1385" y="451" width="1" height="2" fill="#f5a6ae"/>
<rect x="1391" y="490" width="1" height="5" fill="#f5a6ae"/>
<rect x="1397" y="481" width="1" height="1" fill="#a9cdd3"/>
<rect x="1403" y="479" width="1" height="1" fill="#a9cdd3"/>
<rect x="1409" y="493" width="1" height="7" fill="#f5a6ae"/>
<rect x="1415" y="468" width="1" height="3" fill="#a9cdd3"/>
<rect x="1421" y="442" width="1" height="7" fill="#a9cdd3"/>
<rect x="1427" y="418" width="1" height="5" fill="#a9cdd3"/>
<rect x="1433" y="424" width="1" height="27" fill="#a9cdd3"/>
<rect x="1457" y="420" width="1" height="3" fill="#a9cdd3"/>
<rect x="1463" y="422" width="1" height="1" fill="#f5a6ae"/>
<rect x="1463" y="424" width="1" height="11" fill="#f5a6ae"/>
<rect x="1475" y="444" width="1" height="8" fill="#a9cdd3"/>
<rect x="1481" y="409" width="1" height="8" fill="#a9cdd3"/>
<rect x="1487" y="412" width="1" height="3" fill="#a9cdd3"/>
<rect x="1493" y="410" width="1" height="5" fill="#f5a6ae"/>
<rect x="1493" y="416" width="1" height="30" fill="#f5a6ae"/>
<rect x="1499" y="408" width="1" height="7" fill="#f5a6ae"/>
<rect x="1505" y="408" width="1" height="9" fill="#a9cdd3"/>
<rect x="1505" y="418" width="1" height="15" fill="#a9cdd3"/>
<rect x="1511" y="412" width="1" height="5" fill="#f5a6ae"/>
<rect x="1511" y="440" width="1" height="7" fill="#f5a6ae"/>
<rect x="1517" y="440" width="1" height="6" fill="#a9cdd3"/>
<rect x="1523" y="412" width="1" height="16" fill="#f5a6ae"/>
<rect x="1529" y="423" width="1" height="5" fill="#a9cdd3"/>
<rect x="1535" y="412" width="1" height="14" fill="#a9cdd3"/>
<rect x="1541" y="427" width="1" height="8" fill="#a9cdd3"/>
<rect x="1547" y="403" width="1" height="17" fill="#a9cdd3"/>
<rect x="1553" y="421" width="1" height="14" fill="#a9cdd3"/>
<rect x="1571" y="481" width="1" height="3" fill="#f5a6ae"/>
<rect x="1571" y="506" width="1" height="13" fill="#f5a6ae"/>
<rect x="1577" y="472" width="1" height="24" fill="#a9cdd3"/>
<rect x="1577" y="506" width="1" height="6" fill="#a9cdd3"/>
<rect x="1583" y="470" width="1" height="3" fill="#a9cdd3"/>
<rect x="1589" y="485" width="1" height="1" fill="#f5a6ae"/>
<rect x="1595" y="478" width="1" height="6" fill="#f5a6ae"/>
<rect x="1601" y="485" width="1" height="3" fill="#a9cdd3"/>
<rect x="1607" y="494" width="1" height="5" fill="#f5a6ae"/>
<rect x="1613" y="494" width="1" height="7" fill="#a9cdd3"/>
<rect x="1619" y="470" width="1" height="5" fill="#f5a6ae"/>
<rect x="1619" y="477" width="1" height="8" fill="#f5a6ae"/>
<rect x="1625" y="474" width="1" height="2" fill="#f5a6ae"/>
<rect x="1625" y="485" width="1" height="5" fill="#f5a6ae"/>
<rect x="1631" y="480" width="1" height="3" fill="#a9cdd3"/>
<rect x="1631" y="485" width="1" height="4" fill="#a9cdd3"/>
<rect x="1649" y="453" width="1" height="16" fill="#a9cdd3"/>
<rect x="1655" y="462" width="1" height="7" fill="#f5a6ae"/>
<rect x="1661" y="481" width="1" height="7" fill="#f5a6ae"/>
<rect x="1667" y="447" width="1" height="8" fill="#a9cdd3"/>
<rect x="1667" y="481" width="1" height="2" fill="#a9cdd3"/>
<rect x="1673" y="453" width="1" height="2" fill="#f5a6ae"/>
<rect x="1673" y="470" width="1" height="4" fill="#f5a6ae"/>
<rect x="1679" y="458" width="1" height="7" fill="#a9cdd3"/>
<rect x="1679" y="470" width="1" height="6" fill="#a9cdd3"/>
<rect x="1685" y="450" width="1" height="13" fill="#a9cdd3"/>
<rect x="1685" y="466" width="1" height="7" fill="#a9cdd3"/>
<rect x="1691" y="455" width="1" height="6" fill="#a9cdd3"/>
<rect x="1691" y="464" width="1" height="2" fill="#a9cdd3"/>
<rect x="1697" y="452" width="1" height="9" fill="#f5a6ae"/>
<rect x="1703" y="454" width="1" height="10" fill="#f5a6ae"/>
<rect x="1703" y="470" width="1" height="1" fill="#f5a6ae"/>
<rect x="1709" y="482" width="1" height="2" fill="#f5a6ae"/>
<rect x="1715" y="465" width="1" height="16" fill="#f5a6ae"/>
<rect x="1727" y="464" width="1" height="16" fill="#f5a6ae"/>
<rect x="1739" y="459" width="1" height="4" fill="#a9cdd3"/>
<rect x="1739" y="464" width="1" height="13" fill="#a9cdd3"/>
<rect x="1745" y="464" width="1" height="7" fill="#a9cdd3"/>
<rect x="1757" y="398" width="1" height="1" fill="#f5a6ae"/>
<rect x="1757" y="403" width="1" height="7" fill="#f5a6ae"/>
<rect x="1763" y="382" width="1" height="20" fill="#f5a6ae"/>
<rect x="1763" y="412" width="1" height="3" fill="#f5a6ae"/>
<rect x="1775" y="381" width="1" height="13" fill="#f5a6ae"/>
<rect x="1781" y="356" width="1" height="7" fill="#a9cdd3"/>
<rect x="1781" y="380" width="1" height="3" fill="#a9cdd3"/>
<rect x="1787" y="361" width="1" height="2" fill="#f5a6ae"/>
<rect x="1787" y="370" width="1" height="10" fill="#f5a6ae"/>
<rect x="1793" y="363" width="1" height="2" fill="#a9cdd3"/>
<rect x="1793" y="370" width="1" height="10" fill="#a9cdd3"/>
<rect x="489" y="571" width="5" height="5" fill="#5b1a13"/><rect x="490" y="572" width="3" height="3" fill="#d75442"/>
<rect x="495" y="566" width="5" height="10" fill="#225437"/><rect x="496" y="567" width="3" height="8" fill="#6ba583"/>
<rect x="501" y="566" width="5" height="1" fill="#225437"/>
<rect x="507" y="566" width="5" height="1" fill="#225437"/>
<rect x="513" y="566" width="5" height="25" fill="#5b1a13"/><rect x="514" y="567" width="3" height="23" fill="#d75442"/>
<rect x="519" y="580" width="5" height="11" fill="#225437"/><rect x="520" y="581" width="3" height="9" fill="#6ba583"/>
<rect x="525" y="580" width="5" height="8" fill="#5b1a13"/><rect x="526" y="581" width="3" height="6" fill="#d75442"/>
<rect x="531" y="587" width="5" height="2" fill="#5b1a13"/>
<rect x="537" y="588" width="5" height="2" fill="#5b1a13"/>
<rect x="543" y="588" width="5" height="2" fill="#225437"/>
<rect x="549" y="588" width="5" height="1" fill="#5b1a13"/>
<rect x="555" y="588" width="5" height="8" fill="#5b1a13"/><rect x="556" y="589" width="3" height="6" fill="#d75442"/>
<rect x="561" y="595" width="5" height="16" fill="#5b1a13"/><rect x="562" y="596" width="3" height="14" fill="#d75442"/>
<rect x="567" y="610" width="5" height="7" fill="#5b1a13"/><rect x="568" y="611" width="3" height="5" fill="#d75442"/>
<rect x="573" y="616" width="5" height="21" fill="#5b1a13"/><rect x="574" y="617" width="3" height="19" fill="#d75442"/>
<rect x="579" y="636" width="5" height="19" fill="#5b1a13"/><rect x="580" y="637" width="3" height="17" fill="#d75442"/>
<rect x="585" y="641" width="5" height="14" fill="#225437"/><rect x="586" y="642" width="3" height="12" fill="#6ba583"/>
<rect x="591" y="625" width="5" height="17" fill="#225437"/><rect x="592" y="626" width="3" height="15" fill="#6ba583"/>
<rect x="597" y="618" width="5" height="8" fill="#225437"/><rect x="598" y="619" width="3" height="6" fill="#6ba583"/>
<rect x="603" y="618" width="5" height="8" fill="#5b1a13"/><rect x="604" y="619" width="3" height="6" fill="#d75442"/>
<rect x="609" y="614" width="5" height="12" fill="#225437"/><rect x="610" y="615" width="3" height="10" fill="#6ba583"/>
<rect x="615" y="614" width="5" height="1" fill="#225437"/>
<rect x="621" y="614" width="5" height="28" fill="#5b1a13"/><rect x="622" y="615" width="3" height="26" fill="#d75442"/>
<rect x="627" y="610" width="5" height="32" fill="#225437"/><rect x="628" y="611" width="3" height="30" fill="#6ba583"/>
<rect x="633" y="610" width="5" height="2" fill="#5b1a13"/>
<rect x="639" y="606" width="5" height="6" fill="#225437"/><rect x="640" y="607" width="3" height="4" fill="#6ba583"/>
<rect x="645" y="596" width="5" height="11" fill="#225437"/><rect x="646" y="597" width="3" height="9" fill="#6ba583"/>
<rect x="651" y="590" width="5" height="7" fill="#225437"/><rect x="652" y="591" width="3" height="5" fill="#6ba583"/>
<rect x="657" y="590" width="5" height="12" fill="#5b1a13"/><rect x="658" y="591" width="3" height="10" fill="#d75442"/>
<rect x="663" y="593" width="5" height="9" fill="#225437"/><rect x="664" y="594" width="3" height="7" fill="#6ba583"/>
<rect x="669" y="591" width="5" height="3" fill="#225437"/><rect x="670" y="592" width="3" height="1" fill="#6ba583"/>
<rect x="675" y="587" width="5" height="5" fill="#225437"/><rect x="676" y="588" width="3" height="3" fill="#6ba583"/>
<rect x="681" y="580" width="5" height="8" fill="#225437"/><rect x="682" y="581" width="3" height="6" fill="#6ba583"/>
<rect x="687" y="580" width="5" height="11" fill="#5b1a13"/><rect x="688" y="581" width="3" height="9" fill="#d75442"/>
<rect x="693" y="572" width="5" height="19" fill="#225437"/><rect x="694" y="573" width="3" height="17" fill="#6ba583"/>
<rect x="699" y="544" width="5" height="29" fill="#225437"/><rect x="700" y="545" width="3" height="27" fill="#6ba583"/>
<rect x="705" y="544" width="5" height="13" fill="#5b1a13"/><rect x="706" y="545" width="3" height="11" fill="#d75442"/>
<rect x="711" y="556" width="5" height="30" fill="#5b1a13"/><rect x="712" y="557" width="3" height="28" fill="#d75442"/>
<rect x="717" y="554" width="5" height="32" fill="#225437"/><rect x="718" y="555" width="3" height="30" fill="#6ba583"/>
<rect x="723" y="518" width="5" height="37" fill="#225437"/><rect x="724" y="519" width="3" height="35" fill="#6ba583"/>
<rect x="729" y="518" width="5" height="2" fill="#5b1a13"/>
<rect x="735" y="519" width="5" height="5" fill="#5b1a13"/><rect x="736" y="520" width="3" height="3" fill="#d75442"/>
<rect x="741" y="443" width="5" height="81" fill="#225437"/><rect x="742" y="444" width="3" height="79" fill="#6ba583"/>
<rect x="747" y="443" width="5" height="19" fill="#5b1a13"/><rect x="748" y="444" width="3" height="17" fill="#d75442"/>
<rect x="753" y="446" width="5" height="16" fill="#225437"/><rect x="754" y="447" width="3" height="14" fill="#6ba583"/>
<rect x="759" y="418" width="5" height="29" fill="#225437"/><rect x="760" y="419" width="3" height="27" fill="#6ba583"/>
<rect x="765" y="398" width="5" height="21" fill="#225437"/><rect x="766" y="399" width="3" height="19" fill="#6ba583"/>
<rect x="771" y="396" width="5" height="3" fill="#225437"/><rect x="772" y="397" width="3" height="1" fill="#6ba583"/>
<rect x="777" y="396" width="5" height="8" fill="#5b1a13"/><rect x="778" y="397" width="3" height="6" fill="#d75442"/>
<rect x="783" y="403" width="5" height="5" fill="#5b1a13"/><rect x="784" y="404" width="3" height="3" fill="#d75442"/>
<rect x="789" y="407" width="5" height="43" fill="#5b1a13"/><rect x="790" y="408" width="3" height="41" fill="#d75442"/>
<rect x="795" y="441" width="5" height="9" fill="#225437"/><rect x="796" y="442" width="3" height="7" fill="#6ba583"/>
<rect x="801" y="426" width="5" height="16" fill="#225437"/><rect x="802" y="427" width="3" height="14" fill="#6ba583"/>
<rect x="807" y="426" width="5" height="6" fill="#5b1a13"/><rect x="808" y="427" width="3" height="4" fill="#d75442"/>
<rect x="813" y="427" width="5" height="5" fill="#225437"/><rect x="814" y="428" width="3" height="3" fill="#6ba583"/>
<rect x="819" y="420" width="5" height="8" fill="#225437"/><rect x="820" y="421" width="3" height="6" fill="#6ba583"/>
<rect x="825" y="388" width="5" height="33" fill="#225437"/><rect x="826" y="389" width="3" height="31" fill="#6ba583"/>
<rect x="831" y="351" width="5" height="38" fill="#225437"/><rect x="832" y="352" width="3" height="36" fill="#6ba583"/>
<rect x="837" y="343" width="5" height="9" fill="#225437"/><rect x="838" y="344" width="3" height="7" fill="#6ba583"/>
<rect x="843" y="343" width="5" height="41" fill="#5b1a13"/><rect x="844" y="344" width="3" height="39" fill="#d75442"/>
<rect x="849" y="383" width="5" height="5" fill="#5b1a13"/><rect x="850" y="384" width="3" height="3" fill="#d75442"/>
<rect x="855" y="377" width="5" height="11" fill="#225437"/><rect x="856" y="378" width="3" height="9" fill="#6ba583"/>
<rect x="861" y="377" width="5" height="1" fill="#5b1a13"/>
<rect x="867" y="367" width="5" height="11" fill="#225437"/><rect x="868" y="368" width="3" height="9" fill="#6ba583"/>
<rect x="873" y="367" width="5" height="27" fill="#5b1a13"/><rect x="874" y="368" width="3" height="25" fill="#d75442"/>
<rect x="879" y="365" width="5" height="29" fill="#225437"/><rect x="880" y="366" width="3" height="27" fill="#6ba583"/>
<rect x="885" y="365" width="5" height="36" fill="#5b1a13"/><rect x="886" y="366" width="3" height="34" fill="#d75442"/>
<rect x="891" y="400" width="5" height="2" fill="#5b1a13"/>
<rect x="897" y="382" width="5" height="20" fill="#225437"/><rect x="898" y="383" width="3" height="18" fill="#6ba583"/>
<rect x="903" y="379" width="5" height="4" fill="#225437"/><rect x="904" y="380" width="3" height="2" fill="#6ba583"/>
<rect x="909" y="319" width="5" height="61" fill="#225437"/><rect x="910" y="320" width="3" height="59" fill="#6ba583"/>
<rect x="915" y="319" width="5" height="40" fill="#5b1a13"/><rect x="916" y="320" width="3" height="38" fill="#d75442"/>
<rect x="921" y="358" width="5" height="18" fill="#5b1a13"/><rect x="922" y="359" width="3" height="16" fill="#d75442"/>
<rect x="927" y="375" width="5" height="12" fill="#5b1a13"/><rect x="928" y="376" width="3" height="10" fill="#d75442"/>
<rect x="933" y="378" width="5" height="9" fill="#225437"/><rect x="934" y="379" width="3" height="7" fill="#6ba583"/>
<rect x="939" y="368" width="5" height="11" fill="#225437"/><rect x="940" y="369" width="3" height="9" fill="#6ba583"/>
<rect x="945" y="368" width="5" height="4" fill="#5b1a13"/><rect x="946" y="369" width="3" height="2" fill="#d75442"/>
<rect x="951" y="370" width="5" height="2" fill="#225437"/>
<rect x="957" y="370" width="5" height="31" fill="#5b1a13"/><rect x="958" y="371" width="3" height="29" fill="#d75442"/>
<rect x="963" y="400" width="5" height="17" fill="#5b1a13"/><rect x="964" y="401" width="3" height="15" fill="#d75442"/>
<rect x="969" y="416" width="5" height="27" fill="#5b1a13"/><rect x="970" y="417" width="3" height="25" fill="#d75442"/>
<rect x="975" y="442" width="5" height="15" fill="#5b1a13"/><rect x="976" y="443" width="3" height="13" fill="#d75442"/>
<rect x="981" y="456" width="5" height="19" fill="#5b1a13"/><rect x="982" y="457" width="3" height="17" fill="#d75442"/>
<rect x="987" y="474" width="5" height="21" fill="#5b1a13"/><rect x="988" y="475" width="3" height="19" fill="#d75442"/>
<rect x="993" y="494" width="5" height="22" fill="#5b1a13"/><rect x="994" y="495" width="3" height="20" fill="#d75442"/>
<rect x="999" y="451" width="5" height="65" fill="#225437"/><rect x="1000" y="452" width="3" height="63" fill="#6ba583"/>
<rect x="1005" y="451" width="5" height="33" fill="#5b1a13"/><rect x="1006" y="452" width="3" height="31" fill="#d75442"/>
<rect x="1011" y="449" width="5" height="35" fill="#225437"/><rect x="1012" y="450" width="3" height="33" fill="#6ba583"/>
<rect x="1017" y="449" width="5" height="41" fill="#5b1a13"/><rect x="1018" y="450" width="3" height="39" fill="#d75442"/>
<rect x="1023" y="467" width="5" height="23" fill="#225437"/><rect x="1024" y="468" width="3" height="21" fill="#6ba583"/>
<rect x="1029" y="467" width="5" height="26" fill="#5b1a13"/><rect x="1030" y="468" width="3" height="24" fill="#d75442"/>
<rect x="1035" y="492" width="5" height="30" fill="#5b1a13"/><rect x="1036" y="493" width="3" height="28" fill="#d75442"/>
<rect x="1041" y="504" width="5" height="18" fill="#225437"/><rect x="1042" y="505" width="3" height="16" fill="#6ba583"/>
<rect x="1047" y="479" width="5" height="26" fill="#225437"/><rect x="1048" y="480" width="3" height="24" fill="#6ba583"/>
<rect x="1053" y="479" width="5" height="16" fill="#5b1a13"/><rect x="1054" y="480" width="3" height="14" fill="#d75442"/>
<rect x="1059" y="479" width="5" height="16" fill="#225437"/><rect x="1060" y="480" width="3" height="14" fill="#6ba583"/>
<rect x="1065" y="479" width="5" height="1" fill="#225437"/>
<rect x="1071" y="479" width="5" height="28" fill="#5b1a13"/><rect x="1072" y="480" width="3" height="26" fill="#d75442"/>
<rect x="1077" y="506" width="5" height="21" fill="#5b1a13"/><rect x="1078" y="507" width="3" height="19" fill="#d75442"/>
<rect x="1083" y="526" width="5" height="5" fill="#5b1a13"/><rect x="1084" y="527" width="3" height="3" fill="#d75442"/>
<rect x="1089" y="521" width="5" height="10" fill="#225437"/><rect x="1090" y="522" width="3" height="8" fill="#6ba583"/>
<rect x="1095" y="520" width="5" height="2" fill="#225437"/>
<rect x="1101" y="515" width="5" height="6" fill="#225437"/><rect x="1102" y="516" width="3" height="4" fill="#6ba583"/>
<rect x="1107" y="515" width="5" height="5" fill="#5b1a13"/><rect x="1108" y="516" width="3" height="3" fill="#d75442"/>
<rect x="1113" y="512" width="5" height="8" fill="#225437"/><rect x="1114" y="513" width="3" height="6" fill="#6ba583"/>
<rect x="1119" y="510" width="5" height="3" fill="#225437"/><rect x="1120" y="511" width="3" height="1" fill="#6ba583"/>
<rect x="1125" y="510" width="5" height="1" fill="#225437"/>
<rect x="1131" y="510" width="5" height="5" fill="#5b1a13"/><rect x="1132" y="511" width="3" height="3" fill="#d75442"/>
<rect x="1137" y="514" width="5" height="11" fill="#5b1a13"/><rect x="1138" y="515" width="3" height="9" fill="#d75442"/>
<rect x="1143" y="491" width="5" height="34" fill="#225437"/><rect x="1144" y="492" width="3" height="32" fill="#6ba583"/>
<rect x="1149" y="450" width="5" height="42" fill="#225437"/><rect x="1150" y="451" width="3" height="40" fill="#6ba583"/>
<rect x="1155" y="444" width="5" height="7" fill="#225437"/><rect x="1156" y="445" width="3" height="5" fill="#6ba583"/>
<rect x="1161" y="440" width="5" height="5" fill="#225437"/><rect x="1162" y="441" width="3" height="3" fill="#6ba583"/>
<rect x="1167" y="400" width="5" height="41" fill="#225437"/><rect x="1168" y="401" width="3" height="39" fill="#6ba583"/>
<rect x="1173" y="399" width="5" height="2" fill="#225437"/>
<rect x="1179" y="399" width="5" height="5" fill="#5b1a13"/><rect x="1180" y="400" width="3" height="3" fill="#d75442"/>
<rect x="1185" y="399" width="5" height="5" fill="#225437"/><rect x="1186" y="400" width="3" height="3" fill="#6ba583"/>
<rect x="1191" y="399" width="5" height="3" fill="#5b1a13"/><rect x="1192" y="400" width="3" height="1" fill="#d75442"/>
<rect x="1197" y="401" width="5" height="26" fill="#5b1a13"/><rect x="1198" y="402" width="3" height="24" fill="#d75442"/>
<rect x="1203" y="398" width="5" height="29" fill="#225437"/><rect x="1204" y="399" width="3" height="27" fill="#6ba583"/>
<rect x="1209" y="395" width="5" height="4" fill="#225437"/><rect x="1210" y="396" width="3" height="2" fill="#6ba583"/>
<rect x="1215" y="395" width="5" height="12" fill="#5b1a13"/><rect x="1216" y="396" width="3" height="10" fill="#d75442"/>
<rect x="1221" y="406" width="5" height="15" fill="#5b1a13"/><rect x="1222" y="407" width="3" height="13" fill="#d75442"/>
<rect x="1227" y="420" width="5" height="17" fill="#5b1a13"/><rect x="1228" y="421" width="3" height="15" fill="#d75442"/>
<rect x="1233" y="428" width="5" height="9" fill="#225437"/><rect x="1234" y="429" width="3" height="7" fill="#6ba583"/>
<rect x="1239" y="428" width="5" height="9" fill="#5b1a13"/><rect x="1240" y="429" width="3" height="7" fill="#d75442"/>
<rect x="1245" y="436" width="5" height="32" fill="#5b1a13"/><rect x="1246" y="437" width="3" height="30" fill="#d75442"/>
<rect x="1251" y="467" width="5" height="11" fill="#5b1a13"/><rect x="1252" y="468" width="3" height="9" fill="#d75442"/>
<rect x="1257" y="477" width="5" height="5" fill="#5b1a13"/><rect x="1258" y="478" width="3" height="3" fill="#d75442"/>
<rect x="1263" y="481" width="5" height="4" fill="#5b1a13"/><rect x="1264" y="482" width="3" height="2" fill="#d75442"/>
<rect x="1269" y="464" width="5" height="21" fill="#225437"/><rect x="1270" y="465" width="3" height="19" fill="#6ba583"/>
<rect x="1275" y="464" width="5" height="25" fill="#5b1a13"/><rect x="1276" y="465" width="3" height="23" fill="#d75442"/>
<rect x="1281" y="488" width="5" height="14" fill="#5b1a13"/><rect x="1282" y="489" width="3" height="12" fill="#d75442"/>
<rect x="1287" y="498" width="5" height="4" fill="#225437"/><rect x="1288" y="499" width="3" height="2" fill="#6ba583"/>
<rect x="1293" y="498" width="5" height="1" fill="#225437"/>
<rect x="1299" y="498" width="5" height="14" fill="#5b1a13"/><rect x="1300" y="499" width="3" height="12" fill="#d75442"/>
<rect x="1305" y="496" width="5" height="16" fill="#225437"/><rect x="1306" y="497" width="3" height="14" fill="#6ba583"/>
<rect x="1311" y="496" width="5" height="4" fill="#5b1a13"/><rect x="1312" y="497" width="3" height="2" fill="#d75442"/>
<rect x="1317" y="499" width="5" height="5" fill="#5b1a13"/><rect x="1318" y="500" width="3" height="3" fill="#d75442"/>
<rect x="1323" y="488" width="5" height="16" fill="#225437"/><rect x="1324" y="489" width="3" height="14" fill="#6ba583"/>
<rect x="1329" y="488" width="5" height="2" fill="#5b1a13"/>
<rect x="1335" y="481" width="5" height="9" fill="#225437"/><rect x="1336" y="482" width="3" height="7" fill="#6ba583"/>
<rect x="1341" y="473" width="5" height="9" fill="#225437"/><rect x="1342" y="474" width="3" height="7" fill="#6ba583"/>
<rect x="1347" y="440" width="5" height="34" fill="#225437"/><rect x="1348" y="441" width="3" height="32" fill="#6ba583"/>
<rect x="1353" y="428" width="5" height="13" fill="#225437"/><rect x="1354" y="429" width="3" height="11" fill="#6ba583"/>
<rect x="1359" y="424" width="5" height="5" fill="#225437"/><rect x="1360" y="425" width="3" height="3" fill="#6ba583"/>
<rect x="1365" y="424" width="5" height="20" fill="#5b1a13"/><rect x="1366" y="425" width="3" height="18" fill="#d75442"/>
<rect x="1371" y="443" width="5" height="3" fill="#5b1a13"/><rect x="1372" y="444" width="3" height="1" fill="#d75442"/>
<rect x="1377" y="445" width="5" height="9" fill="#5b1a13"/><rect x="1378" y="446" width="3" height="7" fill="#d75442"/>
<rect x="1383" y="453" width="5" height="17" fill="#5b1a13"/><rect x="1384" y="454" width="3" height="15" fill="#d75442"/>
<rect x="1389" y="469" width="5" height="21" fill="#5b1a13"/><rect x="1390" y="470" width="3" height="19" fill="#d75442"/>
<rect x="1395" y="482" width="5" height="8" fill="#225437"/><rect x="1396" y="483" width="3" height="6" fill="#6ba583"/>
<rect x="1401" y="480" width="5" height="3" fill="#225437"/><rect x="1402" y="481" width="3" height="1" fill="#6ba583"/>
<rect x="1407" y="480" width="5" height="13" fill="#5b1a13"/><rect x="1408" y="481" width="3" height="11" fill="#d75442"/>
<rect x="1413" y="471" width="5" height="22" fill="#225437"/><rect x="1414" y="472" width="3" height="20" fill="#6ba583"/>
<rect x="1419" y="449" width="5" height="23" fill="#225437"/><rect x="1420" y="450" width="3" height="21" fill="#6ba583"/>
<rect x="1425" y="423" width="5" height="27" fill="#225437"/><rect x="1426" y="424" width="3" height="25" fill="#6ba583"/>
<rect x="1431" y="409" width="5" height="15" fill="#225437"/><rect x="1432" y="410" width="3" height="13" fill="#6ba583"/>
<rect x="1437" y="409" width="5" height="8" fill="#5b1a13"/><rect x="1438" y="410" width="3" height="6" fill="#d75442"/>
<rect x="1443" y="408" width="5" height="9" fill="#225437"/><rect x="1444" y="409" width="3" height="7" fill="#6ba583"/>
<rect x="1449" y="408" width="5" height="18" fill="#5b1a13"/><rect x="1450" y="409" width="3" height="16" fill="#d75442"/>
<rect x="1455" y="423" width="5" height="3" fill="#225437"/><rect x="1456" y="424" width="3" height="1" fill="#6ba583"/>
<rect x="1461" y="423" width="5" height="1" fill="#5b1a13"/>
<rect x="1467" y="423" width="5" height="21" fill="#5b1a13"/><rect x="1468" y="424" width="3" height="19" fill="#d75442"/>
<rect x="1473" y="424" width="5" height="20" fill="#225437"/><rect x="1474" y="425" width="3" height="18" fill="#6ba583"/>
<rect x="1479" y="417" width="5" height="8" fill="#225437"/><rect x="1480" y="418" width="3" height="6" fill="#6ba583"/>
<rect x="1485" y="415" width="5" height="3" fill="#225437"/><rect x="1486" y="416" width="3" height="1" fill="#6ba583"/>
<rect x="1491" y="415" width="5" height="1" fill="#5b1a13"/>
<rect x="1497" y="415" width="5" height="3" fill="#5b1a13"/><rect x="1498" y="416" width="3" height="1" fill="#d75442"/>
<rect x="1503" y="417" width="5" height="1" fill="#225437"/>
<rect x="1509" y="417" width="5" height="23" fill="#5b1a13"/><rect x="1510" y="418" width="3" height="21" fill="#d75442"/>
<rect x="1515" y="428" width="5" height="12" fill="#225437"/><rect x="1516" y="429" width="3" height="10" fill="#6ba583"/>
<rect x="1521" y="428" width="5" height="10" fill="#5b1a13"/><rect x="1522" y="429" width="3" height="8" fill="#d75442"/>
<rect x="1527" y="428" width="5" height="10" fill="#225437"/><rect x="1528" y="429" width="3" height="8" fill="#6ba583"/>
<rect x="1533" y="426" width="5" height="3" fill="#225437"/><rect x="1534" y="427" width="3" height="1" fill="#6ba583"/>
<rect x="1539" y="421" width="5" height="6" fill="#225437"/><rect x="1540" y="422" width="3" height="4" fill="#6ba583"/>
<rect x="1545" y="420" width="5" height="2" fill="#225437"/>
<rect x="1551" y="418" width="5" height="3" fill="#225437"/><rect x="1552" y="419" width="3" height="1" fill="#6ba583"/>
<rect x="1557" y="418" width="5" height="9" fill="#5b1a13"/><rect x="1558" y="419" width="3" height="7" fill="#d75442"/>
<rect x="1563" y="426" width="5" height="59" fill="#5b1a13"/><rect x="1564" y="427" width="3" height="57" fill="#d75442"/>
<rect x="1569" y="484" width="5" height="22" fill="#5b1a13"/><rect x="1570" y="485" width="3" height="20" fill="#d75442"/>
<rect x="1575" y="496" width="5" height="10" fill="#225437"/><rect x="1576" y="497" width="3" height="8" fill="#6ba583"/>
<rect x="1581" y="473" width="5" height="24" fill="#225437"/><rect x="1582" y="474" width="3" height="22" fill="#6ba583"/>
<rect x="1587" y="473" width="5" height="12" fill="#5b1a13"/><rect x="1588" y="474" width="3" height="10" fill="#d75442"/>
<rect x="1593" y="484" width="5" height="15" fill="#5b1a13"/><rect x="1594" y="485" width="3" height="13" fill="#d75442"/>
<rect x="1599" y="488" width="5" height="11" fill="#225437"/><rect x="1600" y="489" width="3" height="9" fill="#6ba583"/>
<rect x="1605" y="488" width="5" height="6" fill="#5b1a13"/><rect x="1606" y="489" width="3" height="4" fill="#d75442"/>
<rect x="1611" y="475" width="5" height="19" fill="#225437"/><rect x="1612" y="476" width="3" height="17" fill="#6ba583"/>
<rect x="1617" y="475" width="5" height="2" fill="#5b1a13"/>
<rect x="1623" y="476" width="5" height="9" fill="#5b1a13"/><rect x="1624" y="477" width="3" height="7" fill="#d75442"/>
<rect x="1629" y="483" width="5" height="2" fill="#225437"/>
<rect x="1635" y="450" width="5" height="34" fill="#225437"/><rect x="1636" y="451" width="3" height="32" fill="#6ba583"/>
<rect x="1641" y="450" width="5" height="22" fill="#5b1a13"/><rect x="1642" y="451" width="3" height="20" fill="#d75442"/>
<rect x="1647" y="469" width="5" height="3" fill="#225437"/><rect x="1648" y="470" width="3" height="1" fill="#6ba583"/>
<rect x="1653" y="469" width="5" height="3" fill="#5b1a13"/><rect x="1654" y="470" width="3" height="1" fill="#d75442"/>
<rect x="1659" y="471" width="5" height="10" fill="#5b1a13"/><rect x="1660" y="472" width="3" height="8" fill="#d75442"/>
<rect x="1665" y="455" width="5" height="26" fill="#225437"/><rect x="1666" y="456" width="3" height="24" fill="#6ba583"/>
<rect x="1671" y="455" width="5" height="15" fill="#5b1a13"/><rect x="1672" y="456" width="3" height="13" fill="#d75442"/>
<rect x="1677" y="465" width="5" height="5" fill="#225437"/><rect x="1678" y="466" width="3" height="3" fill="#6ba583"/>
<rect x="1683" y="463" width="5" height="3" fill="#225437"/><rect x="1684" y="464" width="3" height="1" fill="#6ba583"/>
<rect x="1689" y="461" width="5" height="3" fill="#225437"/><rect x="1690" y="462" width="3" height="1" fill="#6ba583"/>
<rect x="1695" y="461" width="5" height="4" fill="#5b1a13"/><rect x="1696" y="462" width="3" height="2" fill="#d75442"/>
<rect x="1701" y="464" width="5" height="6" fill="#5b1a13"/><rect x="1702" y="465" width="3" height="4" fill="#d75442"/>
<rect x="1707" y="469" width="5" height="13" fill="#5b1a13"/><rect x="1708" y="470" width="3" height="11" fill="#d75442"/>
<rect x="1713" y="481" width="5" height="9" fill="#5b1a13"/><rect x="1714" y="482" width="3" height="7" fill="#d75442"/>
<rect x="1719" y="480" width="5" height="10" fill="#225437"/><rect x="1720" y="481" width="3" height="8" fill="#6ba583"/>
<rect x="1725" y="480" width="5" height="5" fill="#5b1a13"/><rect x="1726" y="481" width="3" height="3" fill="#d75442"/>
<rect x="1731" y="463" width="5" height="22" fill="#225437"/><rect x="1732" y="464" width="3" height="20" fill="#6ba583"/>
<rect x="1737" y="463" width="5" height="1" fill="#225437"/>
<rect x="1743" y="412" width="5" height="52" fill="#225437"/><rect x="1744" y="413" width="3" height="50" fill="#6ba583"/>
<rect x="1749" y="399" width="5" height="14" fill="#225437"/><rect x="1750" y="400" width="3" height="12" fill="#6ba583"/>
<rect x="1755" y="399" width="5" height="4" fill="#5b1a13"/><rect x="1756" y="400" width="3" height="2" fill="#d75442"/>
<rect x="1761" y="402" width="5" height="10" fill="#5b1a13"/><rect x="1762" y="403" width="3" height="8" fill="#d75442"/>
<rect x="1767" y="391" width="5" height="21" fill="#225437"/><rect x="1768" y="392" width="3" height="19" fill="#6ba583"/>
<rect x="1773" y="376" width="5" height="5" fill="#5b1a13"/><rect x="1774" y="377" width="3" height="3" fill="#d75442"/>
<rect x="1779" y="363" width="5" height="17" fill="#225437"/><rect x="1780" y="364" width="3" height="15" fill="#6ba583"/>
<rect x="1785" y="363" width="5" height="7" fill="#5b1a13"/><rect x="1786" y="364" width="3" height="5" fill="#d75442"/>
<rect x="1791" y="365" width="5" height="5" fill="#225437"/><rect x="1792" y="366" width="3" height="3" fill="#6ba583"/>
<path d="M493 365.5H1827" stroke="#4f9b7a" stroke-width="1" stroke-dasharray="2 1" fill="none"/>
<rect x="1827" y="292" width="1" height="532" fill="#4e4e4e"/>
<rect x="493" y="823" width="1335" height="1" fill="#4e4e4e"/>
<rect x="528" y="824" width="1" height="3" fill="#4e4e4e"/>
<rect x="618" y="824" width="1" height="3" fill="#4e4e4e"/>
<rect x="708" y="824" width="1" height="3" fill="#4e4e4e"/>
<rect x="798" y="824" width="1" height="3" fill="#4e4e4e"/>
<rect x="888" y="824" width="1" height="3" fill="#4e4e4e"/>
<rect x="978" y="824" width="1" height="3" fill="#4e4e4e"/>
<rect x="1068" y="824" width="1" height="3" fill="#4e4e4e"/>
<rect x="1158" y="824" width="1" height="3" fill="#4e4e4e"/>
<rect x="1248" y="824" width="1" height="3" fill="#4e4e4e"/>
<rect x="1338" y="824" width="1" height="3" fill="#4e4e4e"/>
<rect x="1428" y="824" width="1" height="3" fill="#4e4e4e"/>
<rect x="1518" y="824" width="1" height="3" fill="#4e4e4e"/>
<rect x="1608" y="824" width="1" height="3" fill="#4e4e4e"/>
<rect x="1698" y="824" width="1" height="3" fill="#4e4e4e"/>
<rect x="1818" y="824" width="1" height="3" fill="#4e4e4e"/>
<rect x="1828" y="317" width="3" height="1" fill="#4e4e4e"/>
<rect x="1828" y="353" width="3" height="1" fill="#4e4e4e"/>
<rect x="1828" y="390" width="3" height="1" fill="#4e4e4e"/>
<rect x="1828" y="426" width="3" height="1" fill="#4e4e4e"/>
<rect x="1828" y="462" width="3" height="1" fill="#4e4e4e"/>
<rect x="1828" y="499" width="3" height="1" fill="#4e4e4e"/>
<rect x="1828" y="535" width="3" height="1" fill="#4e4e4e"/>
<rect x="1828" y="572" width="3" height="1" fill="#4e4e4e"/>
<rect x="1828" y="608" width="3" height="1" fill="#4e4e4e"/>
<rect x="1828" y="644" width="3" height="1" fill="#4e4e4e"/>
<rect x="1828" y="681" width="3" height="1" fill="#4e4e4e"/>
<rect x="1828" y="717" width="3" height="1" fill="#4e4e4e"/>
<rect x="1828" y="753" width="3" height="1" fill="#4e4e4e"/>
<rect x="1828" y="790" width="3" height="1" fill="#4e4e4e"/>
<rect x="1827" y="358" width="51" height="16" fill="#6ba583"/>
</svg>
<div class="t pl" style="left:1834px;top:313px">9300.00</div>
<div class="t pl" style="left:1834px;top:349px">9290.00</div>
<div class="t pl" style="left:1834px;top:386px">9280.00</div>
<div class="t pl" style="left:1834px;top:422px">9270.00</div>
<div class="t pl" style="left:1834px;top:458px">9260.00</div>
<div class="t pl" style="left:1834px;top:495px">9250.00</div>
<div class="t pl" style="left:1834px;top:531px">9240.00</div>
<div class="t pl" style="left:1834px;top:568px">9230.00</div>
<div class="t pl" style="left:1834px;top:604px">9220.00</div>
<div class="t pl" style="left:1834px;top:640px">9210.00</div>
<div class="t pl" style="left:1834px;top:677px">9200.00</div>
<div class="t pl" style="left:1834px;top:713px">9190.00</div>
<div class="t pl" style="left:1834px;top:749px">9180.00</div>
<div class="t pl" style="left:1834px;top:786px">9170.00</div>
<div class="t" id="ptag" style="left:1834px;top:360.5px;font-size:11px;font-weight:bold;color:#fff;letter-spacing:-0.05px;will-change:transform">9286.89</div>
<div class="t tl" style="left:498.3px;top:829px;width:60px;text-align:center;letter-spacing:-0.2px">08:45</div>
<div class="t tl" style="left:588.3px;top:829px;width:60px;text-align:center;font-weight:bold;letter-spacing:-0.3px">09:00</div>
<div class="t tl" style="left:678.3px;top:829px;width:60px;text-align:center;letter-spacing:-0.2px">09:15</div>
<div class="t tl" style="left:768.3px;top:829px;width:60px;text-align:center;letter-spacing:-0.2px">09:30</div>
<div class="t tl" style="left:858.3px;top:829px;width:60px;text-align:center;letter-spacing:-0.2px">09:45</div>
<div class="t tl" style="left:948.3px;top:829px;width:60px;text-align:center;font-weight:bold;letter-spacing:-0.3px">10:00</div>
<div class="t tl" style="left:1038.3px;top:829px;width:60px;text-align:center;letter-spacing:-0.2px">10:15</div>
<div class="t tl" style="left:1128.3px;top:829px;width:60px;text-align:center;letter-spacing:-0.2px">10:30</div>
<div class="t tl" style="left:1218.3px;top:829px;width:60px;text-align:center;letter-spacing:-0.2px">10:45</div>
<div class="t tl" style="left:1308.3px;top:829px;width:60px;text-align:center;font-weight:bold;letter-spacing:-0.3px">11:00</div>
<div class="t tl" style="left:1398.3px;top:829px;width:60px;text-align:center;letter-spacing:-0.2px">11:15</div>
<div class="t tl" style="left:1488.3px;top:829px;width:60px;text-align:center;letter-spacing:-0.2px">11:30</div>
<div class="t tl" style="left:1578.3px;top:829px;width:60px;text-align:center;letter-spacing:-0.2px">11:45</div>
<div class="t tl" style="left:1668.3px;top:829px;width:60px;text-align:center;font-weight:bold;letter-spacing:-0.3px">12:00</div>
<div class="t tl" style="left:1804.7px;top:829px;width:21px;overflow:hidden">12:20</div>
<div class="t leg" id="leg0" style="left:493px;top:304.4px;width:21.5px;text-align:right;direction:rtl;overflow:hidden"><span style="unicode-bidi:bidi-override;direction:ltr">7.33</span></div>
<div class="t leg" id="leg1" style="left:525px;top:304.4px">L9282.57</div>
<div class="t leg" id="leg2" style="left:596px;top:304.4px">C9286.89</div>
<div class="abs" style="left:493px;top:864px;width:1386px;height:1px;background:#39414f"></div>
<div class="abs" style="left:1878px;top:842px;width:1px;height:23px;background:#39414f"></div>
<div class="abs" style="left:1714px;top:846px;width:1px;height:14px;background:#2f384a"></div>
<div class="abs" style="left:1747px;top:846px;width:1px;height:14px;background:#2f384a"></div>
<div class="abs" style="left:1788px;top:846px;width:1px;height:14px;background:#2f384a"></div>
<div class="abs" style="left:1837px;top:846px;width:1px;height:14px;background:#2f384a"></div>
<div class="t tb" id="utc" style="left:1623.5px;top:847.5px;font-size:11.5px;letter-spacing:0"><b>12:16:30</b> <span style="font-size:11px;letter-spacing:-0.55px;color:#a7b0be;margin-left:1px">(UTC)</span></div>
<div class="t tb" style="left:1727.3px;top:847.3px;font-weight:bold;font-size:11.5px;letter-spacing:0;transform:scaleX(0.76);transform-origin:0 0">%</div>
<div class="t tb" id="log" style="left:1761.5px;top:847.5px;font-weight:bold;font-size:11px;letter-spacing:-0.4px">log</div>
<div class="t tb" id="auto" style="left:1802px;top:847.5px;font-weight:bold;font-size:11px;letter-spacing:0.2px;color:#3b9bea">auto</div>
<svg class="abs" style="left:1850.4px;top:845.6px" width="15" height="15" viewBox="-8 -8 16 16"><g fill="none" stroke="#b9c1cd"><circle r="3.3" stroke-width="1.4"/><path d="M0 -3.6V-6.4M0 3.6V6.4M-3.6 0H-6.4M3.6 0H6.4M-2.5 -2.5L-4.5 -4.5M2.5 2.5L4.5 4.5M-2.5 2.5L-4.5 4.5M2.5 -2.5L4.5 -4.5" stroke-width="1.8"/></g></svg>

<!-- FOOTER -->
<div class="fl" id="fl0" style="left:29px;letter-spacing:-0.5px">Open P&amp;L</div>
<div class="fv" id="fv0" style="left:97px;letter-spacing:-0.15px">$ 0.00</div>
<div class="inf" style="left:137px"></div>
<div class="fl" id="fl1" style="left:184px">Withdrawal request</div>
<div class="fv" id="fv1" style="left:307px;letter-spacing:-0.15px">$ 0.00</div>
<div class="inf" style="left:347px"></div>
<div class="fl" id="fl2" style="left:393px">Equity</div>
<div class="fv" id="fv2" style="left:439px;letter-spacing:-0.15px">$ 0.00</div>
<div class="inf" style="left:480px"></div>
<div class="fl" id="fl3" style="left:526px">Available Margin</div>
<div class="fv" id="fv3" style="left:633px;letter-spacing:-0.15px">$ 0.00</div>
<div class="inf" style="left:673px"></div>
<div class="fl" id="fl4" style="left:719px">Maintenance Margin</div>
<div class="fv" id="fv4" style="left:849px;letter-spacing:-0.15px">$ 0.00</div>
<div class="inf" style="left:889px"></div>
<div class="fl" id="fl5" style="left:935px">Margin Usage</div>
<div class="fv" id="fv5" style="left:1026px;letter-spacing:-0.15px">0.00%</div>
<div class="abs" style="left:1080px;top:907px;width:120px;height:10px;border-radius:5px;background:#39445d"></div>
<div class="inf" style="left:1209px"></div>
<div class="t" id="gmt" style="left:1823px;top:907px;font-size:10px;color:#5c6880">12:16:31 GMT</div>
</body></html>
